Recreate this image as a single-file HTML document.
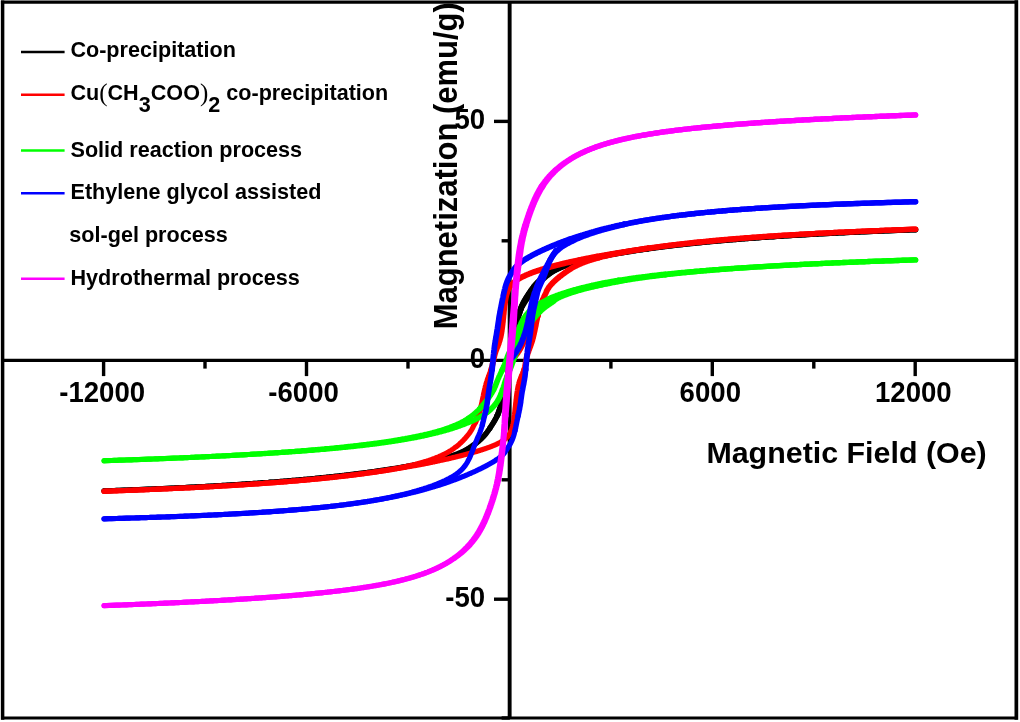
<!DOCTYPE html>
<html><head><meta charset="utf-8"><title>Magnetization</title>
<style>
html,body{margin:0;padding:0;background:#fff;}
body{width:1020px;height:722px;overflow:hidden;}
svg{display:block;}
text{font-family:"Liberation Sans",Arial,sans-serif;font-weight:bold;fill:#000;}
.lg{font-size:21.6px;}
.tk{font-size:27.6px;}
.ti{font-size:30.4px;}
.ty{font-size:31px;}
.par{font-family:"Liberation Serif",serif;font-weight:normal;font-size:25px;}
</style></head><body>
<svg width="1020" height="722" viewBox="0 0 1020 722">
<rect x="0" y="0" width="1020" height="722" fill="#fff"/>
<!-- frame -->
<g stroke="#000" fill="none" stroke-linecap="square">
<line x1="2.6" y1="2.15" x2="1016.35" y2="2.15" stroke-width="3.3"/>
<line x1="2.6" y1="717.95" x2="1016.35" y2="717.95" stroke-width="3"/>
<line x1="2.6" y1="2.15" x2="2.6" y2="717.95" stroke-width="3.5"/>
<line x1="1016.35" y1="2.15" x2="1016.35" y2="717.95" stroke-width="3.7"/>
</g>
<!-- axes -->
<g stroke="#000" fill="none" stroke-linecap="butt">
<line x1="2" y1="360.3" x2="1017" y2="360.3" stroke-width="3.2"/>
<line x1="509.65" y1="2" x2="509.65" y2="719" stroke-width="3.9"/>
<g stroke-width="3.4"><line x1="103.6" y1="360.3" x2="103.6" y2="376.1"/><line x1="306.5" y1="360.3" x2="306.5" y2="376.1"/><line x1="712.3" y1="360.3" x2="712.3" y2="376.1"/><line x1="915.2" y1="360.3" x2="915.2" y2="376.1"/><line x1="205.0" y1="360.3" x2="205.0" y2="368.6"/><line x1="408.0" y1="360.3" x2="408.0" y2="368.6"/><line x1="610.9" y1="360.3" x2="610.9" y2="368.6"/><line x1="813.8" y1="360.3" x2="813.8" y2="368.6"/><line x1="509.8" y1="121.4" x2="494.0" y2="121.4"/><line x1="509.8" y1="599.2" x2="494.0" y2="599.2"/><line x1="509.8" y1="240.8" x2="501.6" y2="240.8"/><line x1="509.8" y1="479.8" x2="501.6" y2="479.8"/><line x1="509.8" y1="718.0" x2="501.6" y2="718.0"/></g>
</g>
<!-- tick labels -->
<text class="tk" text-anchor="middle" transform="translate(102.2,402.0) scale(1,1.045)">-12000</text>
<text class="tk" text-anchor="middle" transform="translate(303.6,402.0) scale(1,1.045)">-6000</text>
<text class="tk" text-anchor="middle" transform="translate(710.3,402.0) scale(1,1.045)">6000</text>
<text class="tk" text-anchor="middle" transform="translate(913.3,402.0) scale(1,1.045)">12000</text>
<text class="tk" text-anchor="end" transform="translate(485.2,129.0) scale(1,1.045)">50</text>
<text class="tk" text-anchor="end" transform="translate(485.2,367.5) scale(1,1.045)">0</text>
<text class="tk" text-anchor="end" transform="translate(485.2,606.5) scale(1,1.045)">-50</text>

<text class="ti" x="706.4" y="462.8">Magnetic Field (Oe)</text>
<text class="ty" transform="translate(456.6,329.3) rotate(-90) scale(1,1.1)">Magnetization (emu/g)</text>
<!-- legend -->
<g stroke-width="2.5" fill="none">
<line x1="21" y1="51.9" x2="64.6" y2="51.9" stroke="#000"/>
<line x1="21" y1="94.7" x2="64.6" y2="94.7" stroke="#ff0000"/>
<line x1="21" y1="150.5" x2="64.6" y2="150.5" stroke="#00ff00"/>
<line x1="21" y1="193.2" x2="64.6" y2="193.2" stroke="#0000ff"/>
<line x1="21" y1="278.8" x2="64.6" y2="278.8" stroke="#ff00ff"/>
</g>
<text class="lg" x="70.4" y="57.3">Co-precipitation</text>
<text class="lg" x="70.4" y="100">Cu<tspan class="par" dy="0.8">(</tspan><tspan dy="-0.8">CH</tspan><tspan dy="12.4">3</tspan><tspan dy="-12.4">COO</tspan><tspan class="par" dy="0.8">)</tspan><tspan dy="11.6">2</tspan><tspan dy="-12.4"> co-precipitation</tspan></text>
<text class="lg" x="70.5" y="156.7">Solid reaction process</text>
<text class="lg" x="70.5" y="199.1">Ethylene glycol assisted</text>
<text class="lg" x="69.3" y="242.3">sol-gel process</text>
<text class="lg" x="70.5" y="285">Hydrothermal process</text>
<!-- curves -->
<g fill="none" stroke-linecap="round" stroke-linejoin="round">
<path d="M104.0 490.8L106.6 490.8 109.1 490.7 111.6 490.6 114.2 490.5 116.7 490.4 119.2 490.3 121.7 490.2 124.2 490.1 126.6 490.0 129.1 489.9 131.5 489.8 134.0 489.7 136.4 489.6 138.8 489.5 141.2 489.4 143.6 489.3 146.0 489.2 148.4 489.1 150.7 489.0 153.1 488.9 155.4 488.8 157.8 488.7 160.1 488.6 162.4 488.5 164.7 488.4 167.0 488.3 169.3 488.2 171.5 488.1 173.8 488.0 176.0 487.9 178.3 487.8 180.5 487.7 182.7 487.6 184.9 487.5 187.1 487.3 189.3 487.2 191.5 487.1 193.6 487.0 195.8 486.9 197.9 486.8 200.1 486.7 202.2 486.6 204.3 486.5 206.4 486.3 208.5 486.2 210.6 486.1 212.7 486.0 214.8 485.9 216.8 485.8 218.9 485.6 220.9 485.5 222.9 485.4 224.9 485.3 226.9 485.2 228.9 485.0 230.9 484.9 232.9 484.8 234.9 484.7 236.8 484.6 238.8 484.4 240.7 484.3 242.6 484.2 244.6 484.1 246.5 483.9 248.4 483.8 250.3 483.7 252.1 483.5 254.0 483.4 255.9 483.3 257.7 483.2 259.6 483.0 261.4 482.9 263.2 482.8 265.0 482.6 266.8 482.5 268.6 482.4 270.4 482.2 272.2 482.1 274.0 482.0 275.7 481.8 277.5 481.7 279.2 481.6 281.0 481.4 282.7 481.3 284.4 481.1 286.1 481.0 287.8 480.9 289.5 480.7 291.2 480.6 292.8 480.4 294.5 480.3 296.2 480.2 297.8 480.0 299.4 479.9 301.1 479.7 302.7 479.6 304.3 479.4 305.9 479.3 307.5 479.2 309.1 479.0 310.6 478.9 312.2 478.7 313.8 478.6 315.3 478.4 316.9 478.3 318.4 478.1 319.9 478.0 321.4 477.8 322.9 477.7 324.4 477.5 325.9 477.4 327.4 477.2 328.9 477.1 330.3 476.9 331.8 476.8 333.2 476.6 334.7 476.4 336.1 476.3 337.5 476.1 338.9 476.0 340.4 475.8 341.8 475.7 343.1 475.5 344.5 475.4 345.9 475.2 347.3 475.0 348.6 474.9 350.0 474.7 351.3 474.6 352.7 474.4 354.0 474.2 355.3 474.1 356.6 473.9 357.9 473.8 359.2 473.6 360.5 473.4 361.8 473.3 363.1 473.1 364.3 472.9 365.6 472.8 366.8 472.6 368.1 472.4 369.3 472.3 370.5 472.1 371.8 471.9 373.0 471.8 374.2 471.6 375.4 471.4 376.6 471.3 377.7 471.1 378.9 470.9 380.1 470.8 381.2 470.6 382.4 470.4 383.5 470.3 384.7 470.1 385.8 469.9 386.9 469.8 388.0 469.6 389.2 469.4 390.3 469.2 391.4 469.1 392.4 468.9 393.5 468.7 394.6 468.5 395.7 468.4 396.7 468.2 397.8 468.0 398.8 467.9 399.9 467.7 400.9 467.5 401.9 467.3 402.9 467.1 403.9 467.0 405.0 466.8 405.9 466.6 406.9 466.4 407.9 466.3 408.9 466.1 409.9 465.9 410.8 465.7 411.8 465.5 412.7 465.4 413.7 465.2 414.6 465.0 415.6 464.8 416.5 464.6 417.4 464.5 418.3 464.3 419.2 464.1 420.1 463.9 421.0 463.7 421.9 463.5 422.8 463.4 423.7 463.2 424.5 463.0 425.4 462.8 426.2 462.6 427.1 462.4 427.9 462.2 428.8 462.0 429.6 461.9 430.4 461.7 431.2 461.5 432.1 461.3 432.9 461.1 433.7 460.9 434.5 460.7 435.2 460.5 436.0 460.3 436.8 460.1 437.6 459.9 438.3 459.7 439.1 459.5 439.9 459.3 440.6 459.1 441.3 458.9 442.1 458.7 442.8 458.5 443.5 458.3 444.3 458.1 445.0 457.9 445.7 457.7 446.4 457.5 447.1 457.3 447.8 457.1 448.5 456.8 449.1 456.6 449.8 456.4 450.5 456.2 451.1 456.0 451.8 455.8 452.4 455.5 453.1 455.3 453.7 455.1 454.4 454.9 455.0 454.6 455.6 454.4 456.3 454.2 456.9 453.9 457.5 453.7 458.1 453.5 458.7 453.2 459.3 453.0 459.9 452.7 460.5 452.5 461.0 452.2 461.6 452.0 462.2 451.7 462.8 451.5 463.3 451.2 463.9 451.0 464.4 450.7 465.0 450.4 465.5 450.2 466.0 449.9 466.6 449.6 467.1 449.3 467.6 449.0 468.1 448.8 468.7 448.5 469.2 448.2 469.7 447.9 470.2 447.6 470.7 447.3 471.1 447.0 471.6 446.7 472.1 446.4 472.6 446.0 473.1 445.7 473.5 445.4 474.0 445.1 474.5 444.7 474.9 444.4 475.4 444.1 475.8 443.7 476.2 443.4 476.7 443.0 477.1 442.7 477.5 442.3 478.0 441.9 478.4 441.6 478.8 441.2 479.2 440.8 479.6 440.4 480.0 440.0 480.4 439.7 480.8 439.3 481.2 438.9 481.6 438.5 482.0 438.1 482.4 437.7 482.7 437.2 483.1 436.8 483.5 436.4 483.8 436.0 484.2 435.6 484.6 435.1 484.9 434.7 485.3 434.3 485.6 433.9 486.0 433.4 486.3 433.0 486.6 432.6 487.0 432.1 487.3 431.7 487.6 431.2 487.9 430.8 488.3 430.4 488.6 429.9 488.9 429.5 489.2 429.1 489.5 428.6 489.8 428.2" stroke="#000000" stroke-width="5.2"/>
<path d="M489.8 428.2L490.1 427.8 490.4 427.3 490.7 426.9 491.0 426.5 491.2 426.0 491.5 425.6 491.8 425.2 492.1 424.8 492.3 424.3 492.6 423.9 492.9 423.5 493.1 423.1 493.4 422.7 493.7 422.3 493.9 421.8 494.2 421.4 494.4 421.0 494.6 420.6 494.9 420.2 495.1 419.7 495.4 419.3 495.6 418.9 495.8 418.5 496.0 418.0 496.3 417.6 496.5 417.2 496.7 416.7 496.9 416.3 497.1 415.8 497.4 415.3" stroke="#000000" stroke-width="5.4"/>
<path d="M497.4 415.3L497.6 414.9 497.8 414.4 498.0 413.9 498.2 413.4 498.4 412.9 498.6 412.4 498.8 411.8 498.9 411.3 499.1 410.7 499.3 410.2 499.5 409.6 499.7 409.1 499.9 408.5 500.0 408.0 500.2 407.5 500.4 406.9 500.6 406.4 500.7 405.9 500.9 405.4 501.1 404.8 501.2 404.3 501.4 403.9 501.5 403.4 501.7 402.9 501.8 402.4 502.0 401.9 502.1 401.4 502.3 401.0 502.4 400.5 502.6 400.0 502.7 399.6 502.9 399.1 503.0 398.6 503.1 398.1 503.3 397.6 503.4 397.2 503.5 396.7 503.7 396.2 503.8 395.7 503.9 395.2 504.0 394.7 504.2 394.2 504.3 393.7 504.4 393.2 504.5 392.7 504.6 392.2 504.8 391.7 504.9 391.2 505.0 390.7 505.1 390.1 505.2 389.6 505.3 389.1 505.4 388.6 505.5 388.1 505.6 387.6 505.7 387.1 505.8 386.6 505.9 386.1 506.0 385.5 506.1 385.0 506.2 384.5 506.3 384.0 506.4 383.5 506.5 383.0 506.6 382.5 506.7 381.9 506.8 381.4 506.9 380.9 507.0 380.4 507.1 379.9 507.1 379.3 507.2 378.8 507.3 378.3 507.4 377.8 507.5 377.2 507.6 376.7 507.6 376.2 507.7 375.6 507.8 375.1 507.9 374.5 508.0 374.0 508.0 373.5 508.1 372.9 508.2 372.4 508.3 371.8 508.4 371.3 508.4 370.7 508.5 370.2" stroke="#000000" stroke-width="5.6"/>
<path d="M508.5 370.2L508.6 369.6 508.7 369.0 508.7 368.5 508.8 367.9 508.9 367.4 509.0 366.8 509.0 366.2 509.1 365.7 509.2 365.1 509.3 364.6 509.3 364.0 509.4 363.4 509.5 362.9 509.5 362.3 509.6 361.7 509.7 361.1 509.8 360.6 509.8 360.0 509.9 359.4 510.0 358.9 510.1 358.3 510.1 357.7 510.2 357.2 510.3 356.6 510.3 356.0 510.4 355.5 510.5 354.9 510.6 354.3 510.6 353.8 510.7 353.2 510.8 352.7 510.9 352.1 510.9 351.5 511.0 351.0 511.1 350.4 511.2 349.9 511.2 349.3 511.3 348.8 511.4 348.2 511.5 347.7 511.6 347.1 511.6 346.6 511.7 346.1 511.8 345.5 511.9 345.0 512.0 344.4 512.0 343.9 512.1 343.4 512.2 342.8 512.3 342.3 512.4 341.8 512.5 341.3 512.5 340.7 512.6 340.2 512.7 339.7 512.8 339.2 512.9 338.7 513.0 338.1 513.1 337.6 513.2 337.1 513.3 336.6 513.4 336.1 513.5 335.6 513.6 335.1 513.7 334.6 513.8 334.0 513.9 333.5 514.0 333.0 514.1 332.5 514.2 332.0 514.3 331.5 514.4 331.0 514.5 330.5 514.6 330.0 514.7 329.4 514.8 328.9 515.0 328.4 515.1 327.9 515.2 327.4 515.3 326.9 515.4 326.4 515.6 325.9 515.7 325.4 515.8 324.9 515.9 324.4 516.1 323.9 516.2 323.4 516.3 323.0 516.5 322.5 516.6 322.0 516.7 321.5 516.9 321.0 517.0 320.6 517.2 320.1 517.3 319.6 517.5 319.2 517.6 318.7 517.8 318.2 517.9 317.7 518.1 317.2 518.2 316.7 518.4 316.2 518.5 315.7 518.7 315.2 518.9 314.7 519.0 314.2 519.2 313.7 519.4 313.1 519.6 312.6 519.7 312.0 519.9 311.5 520.1 310.9 520.3 310.4 520.5 309.8 520.7 309.3 520.8 308.8 521.0 308.2 521.2 307.7 521.4 307.2 521.6 306.7 521.8 306.2 522.0 305.7 522.2 305.3 522.5 304.8 522.7 304.4 522.9 303.9 523.1 303.5 523.3 303.0 523.6 302.6 523.8 302.2 524.0 301.8 524.2 301.3 524.5 300.9 524.7 300.5 525.0 300.1 525.2 299.7 525.4 299.3 525.7 298.9 525.9 298.4 526.2 298.0 526.5 297.6 526.7 297.2 527.0 296.7 527.3 296.3 527.5 295.9 527.8 295.4 528.1 295.0 528.4 294.6 528.6 294.1 528.9 293.7 529.2 293.2 529.5 292.7 529.8 292.3 530.1 291.8 530.4 291.4 530.7 290.9 531.0 290.4 531.3 290.0 531.7 289.5 532.0 289.1 532.3 288.6 532.6 288.2 533.0 287.7 533.3 287.3 533.6 286.8 534.0 286.4 534.3 286.0 534.7 285.6 535.0 285.2 535.4 284.8 535.8 284.4 536.1 284.0 536.5 283.6 536.9 283.3 537.2 282.9 537.6 282.5 538.0 282.2 538.4 281.8 538.8 281.5 539.2 281.1 539.6 280.8 540.0 280.5 540.4 280.1 540.8 279.8 541.2 279.5 541.6 279.2 542.1 278.8 542.5 278.5 542.9 278.2 543.4 277.9 543.8 277.5 544.2 277.2 544.7 276.9 545.1 276.6 545.6 276.2 546.1 275.9 546.5 275.6 547.0 275.2 547.5 274.9 548.0 274.5 548.5 274.2 548.9 273.8 549.4 273.5 549.9 273.1 550.4 272.8 550.9 272.4 551.5 272.0 552.0 271.7 552.5 271.3 553.0 271.0 553.6 270.7 554.1 270.3 554.6 270.0 555.2 269.7 555.7 269.4 556.3 269.1 556.8 268.8 557.4 268.5 558.0 268.3 558.6 268.0 559.1 267.7 559.7 267.5 560.3 267.2 560.9 267.0 561.5 266.7 562.1 266.5 562.7 266.2 563.3 266.0 564.0 265.8 564.6 265.6 565.2 265.3 565.9 265.1 566.5 264.9 567.2 264.7 567.8 264.5 568.5 264.3 569.1 264.1 569.8 263.9 570.5 263.7 571.1 263.4 571.8 263.2 572.5 263.0 573.2 262.9 573.9 262.7 574.6 262.5 575.3 262.3 576.1 262.1 576.8 261.9 577.5 261.7 578.3 261.5 579.0 261.3 579.7 261.1 580.5 260.9 581.3 260.7 582.0 260.6 582.8 260.4 583.6 260.2 584.4 260.0 585.1 259.8 585.9 259.6 586.7 259.5 587.5 259.3 588.4 259.1 589.2 258.9 590.0 258.7 590.8 258.6 591.7 258.4 592.5 258.2 593.4 258.0 594.2 257.8 595.1 257.7 595.9 257.5 596.8 257.3 597.7 257.1" stroke="#000000" stroke-width="5.8"/>
<path d="M597.7 257.1L598.6 256.9 599.5 256.8 600.4 256.6 601.3 256.4 602.2 256.2 603.1 256.1 604.0 255.9 605.0 255.7 605.9 255.5 606.9 255.4 607.8 255.2 608.8 255.0 609.7 254.8 610.7 254.6 611.7 254.5 612.7 254.3 613.7 254.1 614.6 254.0 615.7 253.8 616.7 253.6 617.7 253.4 618.7 253.3 619.7 253.1 620.8 252.9 621.8 252.7 622.9 252.6 623.9 252.4 625.0 252.2 626.1 252.0 627.2 251.9 628.2 251.7 629.3 251.5 630.4 251.4 631.6 251.2 632.7 251.0 633.8 250.8 634.9 250.7 636.1 250.5 637.2 250.3 638.4 250.2 639.5 250.0 640.7 249.8 641.9 249.7 643.0 249.5 644.2 249.3 645.4 249.1 646.6 249.0 647.8 248.8" stroke="#000000" stroke-width="5.6"/>
<path d="M647.8 248.8L649.1 248.6 650.3 248.5 651.5 248.3 652.8 248.1 654.0 248.0 655.3 247.8 656.5 247.6 657.8 247.5 659.1 247.3 660.4 247.2 661.7 247.0 663.0 246.8 664.3 246.7 665.6 246.5 666.9 246.3 668.3 246.2 669.6 246.0 671.0 245.8 672.3 245.7 673.7 245.5 675.1 245.4 676.5 245.2 677.8 245.0 679.2 244.9 680.7 244.7 682.1 244.6 683.5 244.4 684.9 244.3 686.4 244.1 687.8 243.9 689.3 243.8 690.7 243.6 692.2 243.5 693.7 243.3 695.2 243.2 696.7 243.0 698.2 242.9 699.7 242.7 701.2 242.5 702.7 242.4 704.3 242.2 705.8 242.1 707.4 241.9 709.0 241.8 710.5 241.6 712.1 241.5 713.7 241.3 715.3 241.2 716.9 241.1 718.5 240.9 720.2 240.8 721.8 240.6 723.4 240.5 725.1 240.3 726.8 240.2 728.4 240.0 730.1 239.9 731.8 239.8 733.5 239.6 735.2 239.5 736.9 239.3 738.6 239.2 740.4 239.1 742.1 238.9 743.9 238.8 745.6 238.6 747.4 238.5 749.2 238.4 751.0 238.2 752.8 238.1 754.6 238.0 756.4 237.8 758.2 237.7 760.0 237.6 761.9 237.4 763.7 237.3 765.6 237.2 767.5 237.0 769.3 236.9 771.2 236.8 773.1 236.7 775.0 236.5 777.0 236.4 778.9 236.3 780.8 236.1 782.8 236.0 784.7 235.9 786.7 235.8 788.7 235.6 790.7 235.5 792.7 235.4 794.7 235.3 796.7 235.2 798.7 235.0 800.7 234.9 802.8 234.8 804.8 234.7 806.9 234.6 809.0 234.4 811.1 234.3 813.2 234.2 815.3 234.1 817.4 234.0 819.5 233.9 821.7 233.8 823.8 233.6 826.0 233.5 828.1 233.4 830.3 233.3 832.5 233.2 834.7 233.1 836.9 233.0 839.1 232.9 841.3 232.8 843.6 232.7 845.8 232.5 848.1 232.4 850.3 232.3 852.6 232.2 854.9 232.1 857.2 232.0 859.5 231.9 861.8 231.8 864.2 231.7 866.5 231.6 868.9 231.5 871.2 231.4 873.6 231.3 876.0 231.2 878.4 231.1 880.8 231.0 883.2 230.9 885.6 230.8 888.1 230.7 890.5 230.6 893.0 230.5 895.4 230.4 897.9 230.3 900.4 230.3 902.9 230.2 905.4 230.1 908.0 230.0 910.5 229.9 913.0 229.8 915.6 229.7" stroke="#000000" stroke-width="5.4"/>
<path d="M104.0 490.9L106.6 490.8 109.1 490.7 111.6 490.6 114.2 490.5 116.7 490.4 119.2 490.3 121.7 490.3 124.2 490.2 126.6 490.1 129.1 490.0 131.5 489.9 134.0 489.8 136.4 489.7 138.8 489.6 141.2 489.5 143.6 489.4 146.0 489.3 148.4 489.2 150.7 489.1 153.1 489.0 155.4 488.9 157.8 488.8 160.1 488.7 162.4 488.6 164.7 488.5 167.0 488.4 169.3 488.3 171.5 488.2 173.8 488.1 176.0 487.9 178.3 487.8 180.5 487.7 182.7 487.6 184.9 487.5 187.1 487.4 189.3 487.3 191.5 487.2 193.6 487.1 195.8 487.0 197.9 486.8 200.1 486.7 202.2 486.6 204.3 486.5 206.4 486.4 208.5 486.3 210.6 486.2 212.7 486.0 214.8 485.9 216.8 485.8 218.9 485.7 220.9 485.6 222.9 485.4 224.9 485.3 226.9 485.2 228.9 485.1 230.9 485.0 232.9 484.8 234.9 484.7 236.8 484.6 238.8 484.5 240.7 484.3 242.6 484.2 244.6 484.1 246.5 483.9 248.4 483.8 250.3 483.7 252.1 483.6 254.0 483.4 255.9 483.3 257.7 483.2 259.6 483.0 261.4 482.9 263.2 482.8 265.0 482.6 266.8 482.5 268.6 482.4 270.4 482.2 272.2 482.1 274.0 482.0 275.7 481.8 277.5 481.7 279.2 481.5 281.0 481.4 282.7 481.3 284.4 481.1 286.1 481.0 287.8 480.8 289.5 480.7 291.2 480.6 292.8 480.4 294.5 480.3 296.2 480.1 297.8 480.0 299.4 479.8 301.1 479.7 302.7 479.5 304.3 479.4 305.9 479.3 307.5 479.1 309.1 479.0 310.6 478.8 312.2 478.7 313.8 478.5 315.3 478.4 316.9 478.2 318.4 478.1 319.9 477.9 321.4 477.7 322.9 477.6 324.4 477.4 325.9 477.3 327.4 477.1 328.9 477.0 330.3 476.8 331.8 476.7 333.2 476.5 334.7 476.3 336.1 476.2 337.5 476.0 338.9 475.9 340.4 475.7 341.8 475.6 343.1 475.4 344.5 475.2 345.9 475.1 347.3 474.9 348.6 474.8 350.0 474.6 351.3 474.4 352.7 474.3 354.0 474.1 355.3 473.9 356.6 473.8 357.9 473.6 359.2 473.4 360.5 473.3 361.8 473.1 363.1 473.0 364.3 472.8 365.6 472.6 366.8 472.5 368.1 472.3 369.3 472.1 370.5 472.0 371.8 471.8 373.0 471.6 374.2 471.5 375.4 471.3 376.6 471.1 377.7 470.9 378.9 470.8 380.1 470.6 381.2 470.4 382.4 470.3 383.5 470.1 384.7 469.9 385.8 469.8 386.9 469.6 388.0 469.4 389.2 469.2 390.3 469.1 391.4 468.9 392.4 468.7 393.5 468.6 394.6 468.4 395.7 468.2 396.7 468.0 397.8 467.9 398.8 467.7 399.9 467.5 400.9 467.3 401.9 467.2 402.9 467.0 403.9 466.8 405.0 466.6 405.9 466.5 406.9 466.3 407.9 466.1 408.9 466.0 409.9 465.8 410.8 465.6 411.8 465.4 412.7 465.2 413.7 465.1 414.6 464.9 415.6 464.7 416.5 464.5 417.4 464.4 418.3 464.2 419.2 464.0 420.1 463.8 421.0 463.7 421.9 463.5 422.8 463.3 423.7 463.1 424.5 462.9 425.4 462.8 426.2 462.6 427.1 462.4 427.9 462.2 428.8 462.0 429.6 461.9 430.4 461.7 431.2 461.5 432.1 461.3 432.9 461.1 433.7 461.0 434.5 460.8 435.2 460.6 436.0 460.4 436.8 460.2 437.6 460.0 438.3 459.9 439.1 459.7 439.9 459.5 440.6 459.3 441.3 459.1 442.1 458.9 442.8 458.7 443.5 458.5 444.3 458.3 445.0 458.1 445.7 457.9 446.4 457.7 447.1 457.6 447.8 457.4 448.5 457.2 449.1 456.9 449.8 456.7 450.5 456.5 451.1 456.3 451.8 456.1 452.4 455.9 453.1 455.7 453.7 455.5 454.4 455.3 455.0 455.0 455.6 454.8 456.3 454.6 456.9 454.4 457.5 454.1 458.1 453.9 458.7 453.6 459.3 453.4 459.9 453.1 460.5 452.9 461.0 452.6 461.6 452.3 462.2 452.1 462.8 451.8 463.3 451.5 463.9 451.2 464.4 450.9 465.0 450.6 465.5 450.3 466.0 449.9 466.6 449.6 467.1 449.3 467.6 448.9 468.1 448.6 468.7 448.2 469.2 447.8 469.7 447.5 470.2 447.1 470.7 446.8 471.1 446.4 471.6 446.1 472.1 445.7 472.6 445.4 473.1 445.0 473.5 444.7 474.0 444.4 474.5 444.0 474.9 443.7 475.4 443.4 475.8 443.1 476.2 442.7 476.7 442.4 477.1 442.1 477.5 441.8 478.0 441.4 478.4 441.1 478.8 440.8 479.2 440.5 479.6 440.1 480.0 439.8 480.4 439.5 480.8 439.1 481.2 438.8 481.6 438.4 482.0 438.1 482.4 437.7 482.7 437.3 483.1 437.0 483.5 436.6 483.8 436.2 484.2 435.8 484.6 435.4 484.9 435.0 485.3 434.6 485.6 434.2 486.0 433.8 486.3 433.3 486.6 432.9 487.0 432.4 487.3 432.0 487.6 431.5 487.9 431.1 488.3 430.6 488.6 430.2 488.9 429.7 489.2 429.2 489.5 428.8 489.8 428.3" stroke="#000000" stroke-width="5.2"/>
<path d="M489.8 428.3L490.1 427.9 490.4 427.4 490.7 426.9 491.0 426.5 491.2 426.0 491.5 425.6 491.8 425.2 492.1 424.7 492.3 424.3 492.6 423.9 492.9 423.4 493.1 423.0 493.4 422.6 493.7 422.2 493.9 421.7 494.2 421.3 494.4 420.9 494.6 420.5 494.9 420.1 495.1 419.7 495.4 419.3 495.6 418.8 495.8 418.4 496.0 418.0 496.3 417.6 496.5 417.1 496.7 416.7 496.9 416.2 497.1 415.8 497.4 415.3" stroke="#000000" stroke-width="5.4"/>
<path d="M497.4 415.3L497.6 414.9 497.8 414.4 498.0 413.9 498.2 413.4 498.4 412.9 498.6 412.4 498.8 411.8 498.9 411.3 499.1 410.8 499.3 410.2 499.5 409.7 499.7 409.1 499.9 408.6 500.0 408.0 500.2 407.5 500.4 406.9 500.6 406.4 500.7 405.9 500.9 405.4 501.1 404.9 501.2 404.4 501.4 403.9 501.5 403.4 501.7 402.9 501.8 402.4 502.0 401.9 502.1 401.4 502.3 401.0 502.4 400.5 502.6 400.0 502.7 399.6 502.9 399.1 503.0 398.6 503.1 398.1 503.3 397.6 503.4 397.2 503.5 396.7 503.7 396.2 503.8 395.7 503.9 395.2 504.0 394.7 504.2 394.2 504.3 393.7 504.4 393.2 504.5 392.7 504.6 392.2 504.8 391.7 504.9 391.2 505.0 390.6 505.1 390.1 505.2 389.6 505.3 389.1 505.4 388.6 505.5 388.1 505.6 387.6 505.7 387.1 505.8 386.6 505.9 386.0 506.0 385.5 506.1 385.0 506.2 384.5 506.3 384.0 506.4 383.5 506.5 383.0 506.6 382.5 506.7 381.9 506.8 381.4 506.9 380.9 507.0 380.4 507.1 379.9 507.1 379.3 507.2 378.8 507.3 378.3 507.4 377.8 507.5 377.2 507.6 376.7 507.6 376.2 507.7 375.6 507.8 375.1 507.9 374.5 508.0 374.0 508.0 373.5 508.1 372.9 508.2 372.4 508.3 371.8 508.4 371.3 508.4 370.7 508.5 370.2" stroke="#000000" stroke-width="5.6"/>
<path d="M508.5 370.2L508.6 369.6 508.7 369.1 508.7 368.5 508.8 367.9 508.9 367.4 509.0 366.8 509.0 366.3 509.1 365.7 509.2 365.1 509.3 364.6 509.3 364.0 509.4 363.4 509.5 362.9 509.5 362.3 509.6 361.7 509.7 361.2 509.8 360.6 509.8 360.0 509.9 359.5 510.0 358.9 510.1 358.3 510.1 357.7 510.2 357.2 510.3 356.6 510.3 356.0 510.4 355.5 510.5 354.9 510.6 354.4 510.6 353.8 510.7 353.2 510.8 352.7 510.9 352.1 510.9 351.6 511.0 351.0 511.1 350.4 511.2 349.9 511.2 349.3 511.3 348.8 511.4 348.2 511.5 347.7 511.6 347.1 511.6 346.6 511.7 346.1 511.8 345.5 511.9 345.0 512.0 344.4 512.0 343.9 512.1 343.4 512.2 342.8 512.3 342.3 512.4 341.8 512.5 341.3 512.5 340.7 512.6 340.2 512.7 339.7 512.8 339.2 512.9 338.7 513.0 338.1 513.1 337.6 513.2 337.1 513.3 336.6 513.4 336.1 513.5 335.6 513.6 335.1 513.7 334.5 513.8 334.0 513.9 333.5 514.0 333.0 514.1 332.5 514.2 332.0 514.3 331.5 514.4 331.0 514.5 330.5 514.6 329.9 514.7 329.4 514.8 328.9 515.0 328.4 515.1 327.9 515.2 327.4 515.3 326.9 515.4 326.4 515.6 325.9 515.7 325.4 515.8 324.9 515.9 324.4 516.1 323.9 516.2 323.4 516.3 323.0 516.5 322.5 516.6 322.0 516.7 321.5 516.9 321.0 517.0 320.6 517.2 320.1 517.3 319.6 517.5 319.2 517.6 318.7 517.8 318.2 517.9 317.7 518.1 317.2 518.2 316.7 518.4 316.3 518.5 315.8 518.7 315.2 518.9 314.7 519.0 314.2 519.2 313.7 519.4 313.1 519.6 312.6 519.7 312.1 519.9 311.5 520.1 311.0 520.3 310.4 520.5 309.9 520.7 309.3 520.8 308.8 521.0 308.2 521.2 307.7 521.4 307.2 521.6 306.7 521.8 306.2 522.0 305.7 522.2 305.3 522.5 304.8 522.7 304.3 522.9 303.9 523.1 303.4 523.3 303.0 523.6 302.6 523.8 302.1 524.0 301.7 524.2 301.3 524.5 300.9 524.7 300.4 525.0 300.0 525.2 299.6 525.4 299.2 525.7 298.8 525.9 298.3 526.2 297.9 526.5 297.5 526.7 297.1 527.0 296.7 527.3 296.3 527.5 295.8 527.8 295.4 528.1 295.0 528.4 294.6 528.6 294.1 528.9 293.7 529.2 293.3 529.5 292.8 529.8 292.4 530.1 292.0 530.4 291.5 530.7 291.1 531.0 290.7 531.3 290.2 531.7 289.8 532.0 289.4 532.3 288.9 532.6 288.5 533.0 288.0 533.3 287.6 533.6 287.2 534.0 286.7 534.3 286.3 534.7 285.9 535.0 285.5 535.4 285.0 535.8 284.6 536.1 284.2 536.5 283.8 536.9 283.4 537.2 282.9 537.6 282.5 538.0 282.1 538.4 281.7 538.8 281.3 539.2 280.9 539.6 280.6 540.0 280.2 540.4 279.8 540.8 279.4 541.2 279.0 541.6 278.7 542.1 278.3 542.5 277.9 542.9 277.6 543.4 277.2 543.8 276.9 544.2 276.5 544.7 276.2 545.1 275.9 545.6 275.5 546.1 275.2 546.5 274.9 547.0 274.6 547.5 274.2 548.0 273.9 548.5 273.6 548.9 273.3 549.4 273.0 549.9 272.7 550.4 272.4 550.9 272.1 551.5 271.8 552.0 271.6 552.5 271.3 553.0 271.0 553.6 270.7 554.1 270.4 554.6 270.2 555.2 269.9 555.7 269.6 556.3 269.4 556.8 269.1 557.4 268.9 558.0 268.6 558.6 268.4 559.1 268.1 559.7 267.9 560.3 267.6 560.9 267.4 561.5 267.1 562.1 266.9 562.7 266.7 563.3 266.4 564.0 266.2 564.6 266.0 565.2 265.7 565.9 265.5 566.5 265.3 567.2 265.1 567.8 264.8 568.5 264.6 569.1 264.4 569.8 264.2 570.5 264.0 571.1 263.8 571.8 263.5 572.5 263.3 573.2 263.1 573.9 262.9 574.6 262.7 575.3 262.5 576.1 262.3 576.8 262.1 577.5 261.9 578.3 261.7 579.0 261.5 579.7 261.3 580.5 261.1 581.3 260.9 582.0 260.7 582.8 260.5 583.6 260.3 584.4 260.1 585.1 259.9 585.9 259.7 586.7 259.5 587.5 259.3 588.4 259.1 589.2 258.9 590.0 258.7 590.8 258.6 591.7 258.4 592.5 258.2 593.4 258.0 594.2 257.8 595.1 257.6 595.9 257.4 596.8 257.2 597.7 257.1" stroke="#000000" stroke-width="5.8"/>
<path d="M597.7 257.1L598.6 256.9 599.5 256.7 600.4 256.5 601.3 256.3 602.2 256.1 603.1 256.0 604.0 255.8 605.0 255.6 605.9 255.4 606.9 255.2 607.8 255.1 608.8 254.9 609.7 254.7 610.7 254.5 611.7 254.3 612.7 254.2 613.7 254.0 614.6 253.8 615.7 253.6 616.7 253.5 617.7 253.3 618.7 253.1 619.7 252.9 620.8 252.7 621.8 252.6 622.9 252.4 623.9 252.2 625.0 252.1 626.1 251.9 627.2 251.7 628.2 251.5 629.3 251.4 630.4 251.2 631.6 251.0 632.7 250.8 633.8 250.7 634.9 250.5 636.1 250.3 637.2 250.2 638.4 250.0 639.5 249.8 640.7 249.7 641.9 249.5 643.0 249.3 644.2 249.2 645.4 249.0 646.6 248.8 647.8 248.7" stroke="#000000" stroke-width="5.6"/>
<path d="M647.8 248.7L649.1 248.5 650.3 248.3 651.5 248.2 652.8 248.0 654.0 247.8 655.3 247.7 656.5 247.5 657.8 247.3 659.1 247.2 660.4 247.0 661.7 246.8 663.0 246.7 664.3 246.5 665.6 246.4 666.9 246.2 668.3 246.0 669.6 245.9 671.0 245.7 672.3 245.6 673.7 245.4 675.1 245.2 676.5 245.1 677.8 244.9 679.2 244.8 680.7 244.6 682.1 244.5 683.5 244.3 684.9 244.2 686.4 244.0 687.8 243.8 689.3 243.7 690.7 243.5 692.2 243.4 693.7 243.2 695.2 243.1 696.7 242.9 698.2 242.8 699.7 242.6 701.2 242.5 702.7 242.3 704.3 242.2 705.8 242.0 707.4 241.9 709.0 241.7 710.5 241.6 712.1 241.4 713.7 241.3 715.3 241.2 716.9 241.0 718.5 240.9 720.2 240.7 721.8 240.6 723.4 240.4 725.1 240.3 726.8 240.2 728.4 240.0 730.1 239.9 731.8 239.7 733.5 239.6 735.2 239.5 736.9 239.3 738.6 239.2 740.4 239.0 742.1 238.9 743.9 238.8 745.6 238.6 747.4 238.5 749.2 238.4 751.0 238.2 752.8 238.1 754.6 238.0 756.4 237.8 758.2 237.7 760.0 237.6 761.9 237.4 763.7 237.3 765.6 237.2 767.5 237.1 769.3 236.9 771.2 236.8 773.1 236.7 775.0 236.5 777.0 236.4 778.9 236.3 780.8 236.2 782.8 236.0 784.7 235.9 786.7 235.8 788.7 235.7 790.7 235.6 792.7 235.4 794.7 235.3 796.7 235.2 798.7 235.1 800.7 235.0 802.8 234.8 804.8 234.7 806.9 234.6 809.0 234.5 811.1 234.4 813.2 234.3 815.3 234.1 817.4 234.0 819.5 233.9 821.7 233.8 823.8 233.7 826.0 233.6 828.1 233.5 830.3 233.4 832.5 233.3 834.7 233.1 836.9 233.0 839.1 232.9 841.3 232.8 843.6 232.7 845.8 232.6 848.1 232.5 850.3 232.4 852.6 232.3 854.9 232.2 857.2 232.1 859.5 232.0 861.8 231.9 864.2 231.8 866.5 231.7 868.9 231.6 871.2 231.5 873.6 231.4 876.0 231.3 878.4 231.2 880.8 231.1 883.2 231.0 885.6 230.9 888.1 230.8 890.5 230.7 893.0 230.6 895.4 230.5 897.9 230.4 900.4 230.3 902.9 230.2 905.4 230.1 908.0 230.0 910.5 229.9 913.0 229.8 915.6 229.8" stroke="#000000" stroke-width="5.4"/>
<path d="M509.8 360.3L510.1 358.3 510.4 356.3 510.7 354.3 511.0 352.3 511.3 350.3 511.6 348.3 511.9 346.3 512.1 344.3 512.4 342.3 512.7 340.3 513.0 338.3 513.3 336.3 513.6 334.4 514.0 332.4 514.3 330.4 514.7 328.7 515.0 327.0 515.4 325.4 515.7 323.7 516.2 322.1 516.6 320.4 517.0 318.8 517.5 317.3 518.0 315.9 518.4 314.6 518.9 313.3 519.4 312.0 520.0 310.7 520.6 309.4 521.2 308.2 521.8 306.9 522.5 305.7 523.2 304.5 524.0 303.3 524.7 302.1 525.5 300.9 526.3 299.8 527.2 298.6 527.8 297.8 528.4 296.9 529.0 296.1 529.6 295.3 530.2 294.5 530.8 293.6 531.5 292.8 532.0 292.0 532.6 291.3 533.1 290.6 533.7 289.9 534.2 289.1 534.7 288.4 535.3 287.7 535.8 287.0 536.3 286.4 536.8 285.8 537.2 285.3 537.7 284.8 538.1 284.2 538.6 283.7 539.1 283.1 539.5 282.6 540.1 282.0 540.8 281.3 541.4 280.7 542.0 280.1 542.6 279.4 543.2 278.8 543.9 278.2 544.7 277.5 545.6 276.7 546.6 275.8 547.6 275.0 548.6 274.3 549.6 273.5 550.7 272.8 551.7 272.0 552.8 271.4 553.8 270.7 554.9 270.1 556.0 269.5 557.1 268.9 558.2 268.3 559.3 267.8 560.5 267.2 561.8 266.6 563.1 266.0 564.5 265.5 565.9 264.9 567.2 264.4 568.6 263.9 570.0 263.4 571.3 262.9 572.5 262.5 573.8 262.1 575.0 261.7 576.3 261.4 577.5 261.0 578.8 260.6 580.0 260.3" stroke="#000000" stroke-width="5.8"/>
<path d="M104.0 491.2L106.6 491.2 109.1 491.1 111.6 491.0 114.2 490.9 116.7 490.8 119.2 490.7 121.7 490.6 124.2 490.5 126.6 490.4 129.1 490.4 131.5 490.3 134.0 490.2 136.4 490.1 138.8 490.0 141.2 489.9 143.6 489.8 146.0 489.7 148.4 489.6 150.7 489.5 153.1 489.4 155.4 489.3 157.8 489.2 160.1 489.1 162.4 489.0 164.7 488.9 167.0 488.8 169.3 488.7 171.5 488.6 173.8 488.5 176.0 488.4 178.3 488.3 180.5 488.2 182.7 488.1 184.9 488.0 187.1 487.9 189.3 487.8 191.5 487.7 193.6 487.6 195.8 487.5 197.9 487.4 200.1 487.3 202.2 487.2 204.3 487.0 206.4 486.9 208.5 486.8 210.6 486.7 212.7 486.6 214.8 486.5 216.8 486.4 218.9 486.3 220.9 486.1 222.9 486.0 224.9 485.9 226.9 485.8 228.9 485.7 230.9 485.6 232.9 485.5 234.9 485.3 236.8 485.2 238.8 485.1 240.7 485.0 242.6 484.9 244.6 484.7 246.5 484.6 248.4 484.5 250.3 484.4 252.1 484.2 254.0 484.1 255.9 484.0 257.7 483.9 259.6 483.7 261.4 483.6 263.2 483.5 265.0 483.4 266.8 483.2 268.6 483.1 270.4 483.0 272.2 482.8 274.0 482.7 275.7 482.6 277.5 482.5 279.2 482.3 281.0 482.2 282.7 482.1 284.4 481.9 286.1 481.8 287.8 481.6 289.5 481.5 291.2 481.4 292.8 481.2 294.5 481.1 296.2 481.0 297.8 480.8 299.4 480.7 301.1 480.5 302.7 480.4 304.3 480.3 305.9 480.1 307.5 480.0 309.1 479.8 310.6 479.7 312.2 479.5 313.8 479.4 315.3 479.2 316.9 479.1 318.4 478.9 319.9 478.8 321.4 478.6 322.9 478.5 324.4 478.3 325.9 478.2 327.4 478.0 328.9 477.9 330.3 477.7 331.8 477.6 333.2 477.4 334.7 477.3 336.1 477.1 337.5 477.0 338.9 476.8 340.4 476.6 341.8 476.5 343.1 476.3 344.5 476.2 345.9 476.0 347.3 475.8 348.6 475.7 350.0 475.5 351.3 475.3 352.7 475.2 354.0 475.0 355.3 474.8 356.6 474.7 357.9 474.5 359.2 474.3 360.5 474.2 361.8 474.0 363.1 473.8 364.3 473.7 365.6 473.5 366.8 473.3 368.1 473.1 369.3 473.0 370.5 472.8 371.8 472.6 373.0 472.4 374.2 472.2 375.4 472.1 376.6 471.9 377.7 471.7 378.9 471.5 380.1 471.3 381.2 471.1 382.4 471.0 383.5 470.8 384.7 470.6 385.8 470.4 386.9 470.2 388.0 470.0 389.2 469.8 390.3 469.6 391.4 469.4 392.4 469.2 393.5 469.0 394.6 468.8 395.7 468.6 396.7 468.4 397.8 468.2 398.8 468.0 399.9 467.8 400.9 467.6 401.9 467.4 402.9 467.2 403.9 467.0 405.0 466.8 405.9 466.5 406.9 466.3 407.9 466.1 408.9 465.9 409.9 465.7 410.8 465.4 411.8 465.2 412.7 465.0 413.7 464.7 414.6 464.5 415.6 464.3 416.5 464.0 417.4 463.8 418.3 463.6 419.2 463.3 420.1 463.1 421.0 462.8 421.9 462.6 422.8 462.3 423.7 462.1 424.5 461.8 425.4 461.5 426.2 461.3 427.1 461.0 427.9 460.7 428.8 460.5 429.6 460.2 430.4 459.9 431.2 459.6 432.1 459.3 432.9 459.0 433.7 458.7 434.5 458.4 435.2 458.1 436.0 457.8 436.8 457.5 437.6 457.2 438.3 456.9 439.1 456.6 439.9 456.2 440.6 455.9 441.3 455.6 442.1 455.2 442.8 454.9 443.5 454.5 444.3 454.2 445.0 453.8 445.7 453.4 446.4 453.1 447.1 452.7 447.8 452.3 448.5 451.9 449.1 451.5 449.8 451.1 450.5 450.7 451.1 450.3 451.8 449.8 452.4 449.4 453.1 449.0 453.7 448.5 454.4 448.1 455.0 447.6 455.6 447.1 456.3 446.7 456.9 446.2 457.5 445.7 458.1 445.2 458.7 444.7 459.3 444.2 459.9 443.6 460.5 443.1 461.0 442.6 461.6 442.0 462.2 441.5 462.8 440.9 463.3 440.3 463.9 439.7 464.4 439.2 465.0 438.6 465.5 437.9 466.0 437.3 466.6 436.7 467.1 436.1 467.6 435.4 468.1 434.8 468.7 434.1 469.2 433.4 469.7 432.8 470.2 432.0 470.7 431.3 471.1 430.6 471.6 429.8 472.1 428.9 472.6 428.0 473.1 427.1 473.5 426.1 474.0 425.2 474.5 424.3 474.9 423.4 475.4 422.5" stroke="#ff0000" stroke-width="5.2"/>
<path d="M475.4 422.5L475.8 421.6 476.2 420.7 476.7 419.8 477.1 418.8 477.5 417.8 478.0 416.8 478.4 415.7 478.8 414.6 479.2 413.4 479.6 412.1 480.0 410.8 480.4 409.4 480.8 407.9" stroke="#ff0000" stroke-width="5.4"/>
<path d="M480.8 407.9L481.2 406.3 481.6 404.7 482.0 403.0 482.4 401.2 482.7 399.4 483.1 397.6 483.5 395.8 483.8 394.0 484.2 392.3 484.6 390.7 484.9 389.2 485.3 387.7 485.6 386.3 486.0 385.0 486.3 383.8 486.6 382.7 487.0 381.6 487.3 380.6 487.6 379.6 487.9 378.7 488.3 377.8 488.6 376.9 488.9 376.1 489.2 375.2 489.5 374.4 489.8 373.6 490.1 372.8 490.4 372.0 490.7 371.1 491.0 370.3" stroke="#ff0000" stroke-width="5.6"/>
<path d="M491.0 370.3L491.2 369.4 491.5 368.5 491.8 367.5 492.1 366.5 492.3 365.4 492.6 364.2 492.9 363.0 493.1 361.7 493.4 360.4 493.7 359.2 493.9 358.0 494.2 356.9 494.4 355.9 494.6 355.0 494.9 354.1 495.1 353.3 495.4 352.5 495.6 351.8 495.8 351.1 496.0 350.5 496.3 349.9 496.5 349.3 496.7 348.7 496.9 348.2 497.1 347.6 497.4 347.1 497.6 346.6 497.8 346.0 498.0 345.5 498.2 345.0 498.4 344.4 498.6 343.9 498.8 343.4 498.9 342.8 499.1 342.2 499.3 341.7 499.5 341.1 499.7 340.5 499.9 339.8 500.0 339.2 500.2 338.5 500.4 337.8 500.6 337.1 500.7 336.3 500.9 335.6 501.1 334.7 501.2 333.9 501.4 333.0 501.5 332.1 501.7 331.1 501.8 330.1 502.0 329.0 502.1 327.9 502.3 326.8 502.4 325.6 502.6 324.4 502.7 323.1 502.9 321.8 503.0 320.5 503.1 319.2 503.3 317.9 503.4 316.6 503.5 315.3 503.7 314.0 503.8 312.8 503.9 311.6 504.0 310.4 504.2 309.3 504.3 308.2 504.4 307.2 504.5 306.2 504.6 305.3 504.8 304.4 504.9 303.6 505.0 302.8 505.1 302.1 505.2 301.4 505.3 300.7 505.4 300.1 505.5 299.5 505.6 298.9 505.7 298.4 505.8 297.8 505.9 297.4 506.0 296.9 506.1 296.5 506.2 296.0 506.3 295.6 506.4 295.3 506.5 294.9 506.6 294.5 506.7 294.2 506.8 293.9 506.9 293.6 507.0 293.3 507.1 293.0 507.1 292.7 507.2 292.5 507.3 292.2 507.4 292.0 507.5 291.7 507.6 291.5 507.6 291.3 507.7 291.1 507.8 290.9 507.9 290.7 508.0 290.5 508.0 290.3 508.1 290.1 508.2 289.9 508.3 289.8 508.4 289.6 508.4 289.4 508.5 289.3 508.6 289.1 508.7 289.0 508.7 288.8 508.8 288.7 508.9 288.5 509.0 288.4 509.0 288.2 509.1 288.1 509.2 288.0 509.3 287.9 509.3 287.7 509.4 287.6 509.5 287.5 509.5 287.4 509.6 287.2 509.7 287.1 509.8 287.0 509.8 286.9 509.9 286.8 510.0 286.7 510.1 286.6 510.1 286.5 510.2 286.4 510.3 286.3 510.3 286.2 510.4 286.1 510.5 285.9 510.6 285.8 510.6 285.8 510.7 285.7 510.8 285.6 510.9 285.5 510.9 285.4 511.0 285.3 511.1 285.2 511.2 285.1 511.2 285.0 511.3 284.9 511.4 284.8 511.5 284.7 511.6 284.6 511.6 284.5 511.7 284.4 511.8 284.3 511.9 284.3 512.0 284.2 512.0 284.1 512.1 284.0 512.2 283.9 512.3 283.8 512.4 283.7 512.5 283.6 512.5 283.5 512.6 283.4 512.7 283.4 512.8 283.3 512.9 283.2 513.0 283.1 513.1 283.0 513.2 282.9 513.3 282.8 513.4 282.7 513.5 282.7 513.6 282.6 513.7 282.5 513.8 282.4 513.9 282.3 514.0 282.2 514.1 282.1 514.2 282.0 514.3 281.9 514.4 281.9 514.5 281.8 514.6 281.7 514.7 281.6 514.8 281.5 515.0 281.4 515.1 281.3 515.2 281.2 515.3 281.1 515.4 281.0 515.6 280.9 515.7 280.9 515.8 280.8 515.9 280.7 516.1 280.6 516.2 280.5 516.3 280.4 516.5 280.3 516.6 280.2 516.7 280.1 516.9 280.0 517.0 279.9 517.2 279.8 517.3 279.7 517.5 279.6 517.6 279.5 517.8 279.4 517.9 279.3 518.1 279.2 518.2 279.1 518.4 279.0 518.5 279.0 518.7 278.9 518.9 278.8 519.0 278.7 519.2 278.6 519.4 278.5 519.6 278.4 519.7 278.3 519.9 278.2 520.1 278.1 520.3 278.0 520.5 277.9 520.7 277.8 520.8 277.6 521.0 277.5 521.2 277.4 521.4 277.3 521.6 277.2 521.8 277.1 522.0 277.0 522.2 276.9 522.5 276.8 522.7 276.7 522.9 276.6 523.1 276.5 523.3 276.4 523.6 276.3 523.8 276.2 524.0 276.1 524.2 276.0 524.5 275.9 524.7 275.7 525.0 275.6 525.2 275.5 525.4 275.4 525.7 275.3 525.9 275.2 526.2 275.1 526.5 275.0 526.7 274.9 527.0 274.7 527.3 274.6 527.5 274.5 527.8 274.4 528.1 274.3 528.4 274.2 528.6 274.1 528.9 273.9 529.2 273.8 529.5 273.7 529.8 273.6 530.1 273.5 530.4 273.3 530.7 273.2 531.0 273.1 531.3 273.0 531.7 272.9 532.0 272.7 532.3 272.6 532.6 272.5 533.0 272.4 533.3 272.2 533.6 272.1 534.0 272.0 534.3 271.9 534.7 271.7 535.0 271.6 535.4 271.5 535.8 271.4 536.1 271.2 536.5 271.1 536.9 271.0 537.2 270.9 537.6 270.7 538.0 270.6 538.4 270.5 538.8 270.3 539.2 270.2 539.6 270.1 540.0 270.0 540.4 269.8 540.8 269.7 541.2 269.6 541.6 269.4 542.1 269.3 542.5 269.2 542.9 269.0 543.4 268.9 543.8 268.8 544.2 268.6 544.7 268.5 545.1 268.4 545.6 268.2 546.1 268.1 546.5 268.0 547.0 267.8 547.5 267.7 548.0 267.6 548.5 267.4 548.9 267.3 549.4 267.2 549.9 267.0 550.4 266.9 550.9 266.7 551.5 266.6 552.0 266.5 552.5 266.3 553.0 266.2 553.6 266.0 554.1 265.9 554.6 265.8 555.2 265.6 555.7 265.5 556.3 265.3 556.8 265.2 557.4 265.0 558.0 264.9 558.6 264.8 559.1 264.6 559.7 264.5 560.3 264.3 560.9 264.2 561.5 264.0 562.1 263.9 562.7 263.7 563.3 263.6 564.0 263.4 564.6 263.3 565.2 263.1 565.9 263.0 566.5 262.8 567.2 262.7 567.8 262.5 568.5 262.4 569.1 262.2 569.8 262.1 570.5 261.9 571.1 261.8 571.8 261.6 572.5 261.5 573.2 261.3 573.9 261.2 574.6 261.0 575.3 260.9 576.1 260.7 576.8 260.5 577.5 260.4 578.3 260.2 579.0 260.1 579.7 259.9 580.5 259.8 581.3 259.6 582.0 259.4 582.8 259.3 583.6 259.1 584.4 259.0 585.1 258.8 585.9 258.6 586.7 258.5 587.5 258.3 588.4 258.2 589.2 258.0 590.0 257.8 590.8 257.7 591.7 257.5 592.5 257.4 593.4 257.2 594.2 257.0 595.1 256.9 595.9 256.7 596.8 256.5" stroke="#ff0000" stroke-width="5.8"/>
<path d="M596.8 256.5L597.7 256.4 598.6 256.2 599.5 256.0 600.4 255.9 601.3 255.7 602.2 255.5 603.1 255.4 604.0 255.2 605.0 255.0 605.9 254.9 606.9 254.7 607.8 254.5 608.8 254.4 609.7 254.2 610.7 254.0 611.7 253.9 612.7 253.7 613.7 253.5 614.6 253.4 615.7 253.2 616.7 253.0 617.7 252.9 618.7 252.7 619.7 252.5 620.8 252.4 621.8 252.2 622.9 252.0 623.9 251.8 625.0 251.7 626.1 251.5 627.2 251.3 628.2 251.2 629.3 251.0 630.4 250.8 631.6 250.7 632.7 250.5 633.8 250.3 634.9 250.2 636.1 250.0 637.2 249.8 638.4 249.7 639.5 249.5 640.7 249.3 641.9 249.2 643.0 249.0 644.2 248.8 645.4 248.6 646.6 248.5 647.8 248.3" stroke="#ff0000" stroke-width="5.6"/>
<path d="M647.8 248.3L649.1 248.1 650.3 248.0 651.5 247.8 652.8 247.6 654.0 247.5 655.3 247.3 656.5 247.1 657.8 247.0 659.1 246.8 660.4 246.7 661.7 246.5 663.0 246.3 664.3 246.2 665.6 246.0 666.9 245.8 668.3 245.7 669.6 245.5 671.0 245.3 672.3 245.2 673.7 245.0 675.1 244.9 676.5 244.7 677.8 244.5 679.2 244.4 680.7 244.2 682.1 244.1 683.5 243.9 684.9 243.7 686.4 243.6 687.8 243.4 689.3 243.3 690.7 243.1 692.2 242.9 693.7 242.8 695.2 242.6 696.7 242.5 698.2 242.3 699.7 242.2 701.2 242.0 702.7 241.9 704.3 241.7 705.8 241.6 707.4 241.4 709.0 241.3 710.5 241.1 712.1 241.0 713.7 240.8 715.3 240.7 716.9 240.5 718.5 240.4 720.2 240.2 721.8 240.1 723.4 239.9 725.1 239.8 726.8 239.6 728.4 239.5 730.1 239.3 731.8 239.2 733.5 239.1 735.2 238.9 736.9 238.8 738.6 238.6 740.4 238.5 742.1 238.4 743.9 238.2 745.6 238.1 747.4 237.9 749.2 237.8 751.0 237.7 752.8 237.5 754.6 237.4 756.4 237.3 758.2 237.1 760.0 237.0 761.9 236.9 763.7 236.7 765.6 236.6 767.5 236.5 769.3 236.3 771.2 236.2 773.1 236.1 775.0 236.0 777.0 235.8 778.9 235.7 780.8 235.6 782.8 235.4 784.7 235.3 786.7 235.2 788.7 235.1 790.7 235.0 792.7 234.8 794.7 234.7 796.7 234.6 798.7 234.5 800.7 234.3 802.8 234.2 804.8 234.1 806.9 234.0 809.0 233.9 811.1 233.8 813.2 233.6 815.3 233.5 817.4 233.4 819.5 233.3 821.7 233.2 823.8 233.1 826.0 233.0 828.1 232.8 830.3 232.7 832.5 232.6 834.7 232.5 836.9 232.4 839.1 232.3 841.3 232.2 843.6 232.1 845.8 232.0 848.1 231.9 850.3 231.8 852.6 231.7 854.9 231.6 857.2 231.5 859.5 231.4 861.8 231.3 864.2 231.1 866.5 231.0 868.9 230.9 871.2 230.8 873.6 230.7 876.0 230.7 878.4 230.6 880.8 230.5 883.2 230.4 885.6 230.3 888.1 230.2 890.5 230.1 893.0 230.0 895.4 229.9 897.9 229.8 900.4 229.7 902.9 229.6 905.4 229.5 908.0 229.4 910.5 229.3 913.0 229.2 915.6 229.2" stroke="#ff0000" stroke-width="5.4"/>
<path d="M104.0 491.3L106.6 491.2 109.1 491.1 111.6 491.0 114.2 490.9 116.7 490.8 119.2 490.7 121.7 490.7 124.2 490.6 126.6 490.5 129.1 490.4 131.5 490.3 134.0 490.2 136.4 490.1 138.8 490.0 141.2 489.9 143.6 489.8 146.0 489.7 148.4 489.6 150.7 489.5 153.1 489.4 155.4 489.3 157.8 489.2 160.1 489.1 162.4 489.0 164.7 488.9 167.0 488.8 169.3 488.7 171.5 488.6 173.8 488.5 176.0 488.4 178.3 488.3 180.5 488.2 182.7 488.1 184.9 488.0 187.1 487.9 189.3 487.8 191.5 487.7 193.6 487.6 195.8 487.5 197.9 487.3 200.1 487.2 202.2 487.1 204.3 487.0 206.4 486.9 208.5 486.8 210.6 486.7 212.7 486.6 214.8 486.4 216.8 486.3 218.9 486.2 220.9 486.1 222.9 486.0 224.9 485.9 226.9 485.7 228.9 485.6 230.9 485.5 232.9 485.4 234.9 485.3 236.8 485.1 238.8 485.0 240.7 484.9 242.6 484.8 244.6 484.6 246.5 484.5 248.4 484.4 250.3 484.3 252.1 484.1 254.0 484.0 255.9 483.9 257.7 483.8 259.6 483.6 261.4 483.5 263.2 483.4 265.0 483.2 266.8 483.1 268.6 483.0 270.4 482.8 272.2 482.7 274.0 482.6 275.7 482.4 277.5 482.3 279.2 482.2 281.0 482.0 282.7 481.9 284.4 481.7 286.1 481.6 287.8 481.5 289.5 481.3 291.2 481.2 292.8 481.0 294.5 480.9 296.2 480.8 297.8 480.6 299.4 480.5 301.1 480.3 302.7 480.2 304.3 480.0 305.9 479.9 307.5 479.7 309.1 479.6 310.6 479.4 312.2 479.3 313.8 479.2 315.3 479.0 316.9 478.9 318.4 478.7 319.9 478.5 321.4 478.4 322.9 478.2 324.4 478.1 325.9 477.9 327.4 477.8 328.9 477.6 330.3 477.5 331.8 477.3 333.2 477.2 334.7 477.0 336.1 476.8 337.5 476.7 338.9 476.5 340.4 476.4 341.8 476.2 343.1 476.1 344.5 475.9 345.9 475.7 347.3 475.6 348.6 475.4 350.0 475.3 351.3 475.1 352.7 474.9 354.0 474.8 355.3 474.6 356.6 474.4 357.9 474.3 359.2 474.1 360.5 473.9 361.8 473.8 363.1 473.6 364.3 473.4 365.6 473.3 366.8 473.1 368.1 472.9 369.3 472.8 370.5 472.6 371.8 472.4 373.0 472.3 374.2 472.1 375.4 471.9 376.6 471.8 377.7 471.6 378.9 471.4 380.1 471.3 381.2 471.1 382.4 470.9 383.5 470.8 384.7 470.6 385.8 470.4 386.9 470.2 388.0 470.1 389.2 469.9 390.3 469.7 391.4 469.6 392.4 469.4 393.5 469.2 394.6 469.0 395.7 468.9 396.7 468.7 397.8 468.5 398.8 468.4 399.9 468.2 400.9 468.0 401.9 467.8 402.9 467.7 403.9 467.5 405.0 467.3 405.9 467.2 406.9 467.0 407.9 466.8 408.9 466.6 409.9 466.5 410.8 466.3 411.8 466.1 412.7 466.0 413.7 465.8 414.6 465.6 415.6 465.4 416.5 465.3 417.4 465.1 418.3 464.9 419.2 464.8 420.1 464.6 421.0 464.4 421.9 464.3 422.8 464.1 423.7 463.9 424.5 463.8 425.4 463.6 426.2 463.4 427.1 463.3 427.9 463.1 428.8 462.9 429.6 462.7 430.4 462.6 431.2 462.4 432.1 462.3 432.9 462.1 433.7 461.9 434.5 461.8 435.2 461.6 436.0 461.4 436.8 461.3 437.6 461.1 438.3 460.9 439.1 460.8 439.9 460.6 440.6 460.4 441.3 460.3 442.1 460.1 442.8 460.0 443.5 459.8 444.3 459.6 445.0 459.5 445.7 459.3 446.4 459.2 447.1 459.0 447.8 458.9 448.5 458.7 449.1 458.5 449.8 458.4 450.5 458.2 451.1 458.1 451.8 457.9 452.4 457.8 453.1 457.6 453.7 457.5 454.4 457.3 455.0 457.2 455.6 457.0 456.3 456.8 456.9 456.7 457.5 456.5 458.1 456.4 458.7 456.2 459.3 456.1 459.9 456.0 460.5 455.8 461.0 455.7 461.6 455.5 462.2 455.4 462.8 455.2 463.3 455.1 463.9 454.9 464.4 454.8 465.0 454.6 465.5 454.5 466.0 454.4 466.6 454.2 467.1 454.1 467.6 453.9 468.1 453.8 468.7 453.7 469.2 453.5 469.7 453.4 470.2 453.2 470.7 453.1 471.1 453.0 471.6 452.8 472.1 452.7 472.6 452.6 473.1 452.4 473.5 452.3 474.0 452.2 474.5 452.0 474.9 451.9 475.4 451.8 475.8 451.6 476.2 451.5 476.7 451.4 477.1 451.2 477.5 451.1 478.0 451.0 478.4 450.9 478.8 450.7 479.2 450.6 479.6 450.5 480.0 450.4 480.4 450.2 480.8 450.1 481.2 450.0 481.6 449.9 482.0 449.7 482.4 449.6 482.7 449.5 483.1 449.4 483.5 449.2 483.8 449.1 484.2 449.0 484.6 448.9 484.9 448.8 485.3 448.6 485.6 448.5 486.0 448.4 486.3 448.3 486.6 448.2 487.0 448.1 487.3 447.9 487.6 447.8 487.9 447.7 488.3 447.6 488.6 447.5 488.9 447.4 489.2 447.3 489.5 447.1 489.8 447.0 490.1 446.9 490.4 446.8 490.7 446.7 491.0 446.6 491.2 446.5 491.5 446.4 491.8 446.3 492.1 446.1 492.3 446.0 492.6 445.9 492.9 445.8 493.1 445.7 493.4 445.6 493.7 445.5 493.9 445.4 494.2 445.3 494.4 445.2 494.6 445.1 494.9 445.0 495.1 444.9 495.4 444.8 495.6 444.7 495.8 444.6 496.0 444.5 496.3 444.4 496.5 444.3 496.7 444.1 496.9 444.0 497.1 443.9 497.4 443.8 497.6 443.7 497.8 443.6 498.0 443.5 498.2 443.4 498.4 443.3 498.6 443.2 498.8 443.1 498.9 443.0 499.1 443.0 499.3 442.9 499.5 442.8 499.7 442.7 499.9 442.6 500.0 442.5 500.2 442.4 500.4 442.3 500.6 442.2 500.7 442.1 500.9 442.0 501.1 441.9 501.2 441.8 501.4 441.7 501.5 441.6 501.7 441.5 501.8 441.4 502.0 441.3 502.1 441.2 502.3 441.1 502.4 441.0 502.6 440.9 502.7 440.9 502.9 440.8 503.0 440.7 503.1 440.6 503.3 440.5 503.4 440.4 503.5 440.3 503.7 440.2 503.8 440.1 503.9 440.0 504.0 439.9 504.2 439.8 504.3 439.8 504.4 439.7 504.5 439.6 504.6 439.5 504.8 439.4 504.9 439.3 505.0 439.2 505.1 439.1 505.2 439.0 505.3 438.9 505.4 438.9 505.5 438.8 505.6 438.7 505.7 438.6 505.8 438.5 505.9 438.4 506.0 438.3 506.1 438.2 506.2 438.1 506.3 438.0 506.4 438.0 506.5 437.9 506.6 437.8 506.7 437.7 506.8 437.6 506.9 437.5 507.0 437.4 507.1 437.3 507.1 437.2 507.2 437.1 507.3 437.1 507.4 437.0 507.5 436.9 507.6 436.8 507.6 436.7 507.7 436.6 507.8 436.5 507.9 436.4 508.0 436.3 508.0 436.2 508.1 436.1 508.2 436.0 508.3 435.9 508.4 435.8 508.4 435.7 508.5 435.6 508.6 435.5 508.7 435.4 508.7 435.3 508.8 435.2 508.9 435.1 509.0 435.0 509.0 434.9 509.1 434.8 509.2 434.7 509.3 434.6 509.3 434.5 509.4 434.4 509.5 434.2 509.5 434.1 509.6 434.0 509.7 433.9 509.8 433.8 509.8 433.6 509.9 433.5 510.0 433.4 510.1 433.3 510.1 433.1 510.2 433.0 510.3 432.9 510.3 432.7 510.4 432.6 510.5 432.4 510.6 432.3 510.6 432.1 510.7 432.0 510.8 431.8 510.9 431.7 510.9 431.5 511.0 431.3" stroke="#ff0000" stroke-width="5.2"/>
<path d="M511.0 431.3L511.1 431.1 511.2 431.0 511.2 430.8 511.3 430.6 511.4 430.4 511.5 430.2 511.6 430.0 511.6 429.8 511.7 429.5 511.8 429.3 511.9 429.1 512.0 428.8 512.0 428.6 512.1 428.3 512.2 428.0 512.3 427.7 512.4 427.4 512.5 427.1 512.5 426.8 512.6 426.5 512.7 426.1 512.8 425.8 512.9 425.4 513.0 425.0 513.1 424.5 513.2 424.1 513.3 423.6 513.4 423.2 513.5 422.7 513.6 422.1 513.7 421.6 513.8 421.0 513.9 420.4 514.0 419.7 514.1 419.0 514.2 418.3 514.3 417.6 514.4 416.8" stroke="#ff0000" stroke-width="5.4"/>
<path d="M514.4 416.8L514.5 415.9 514.6 415.1 514.7 414.1 514.8 413.2 515.0 412.2 515.1 411.2 515.2 410.1 515.3 409.0 515.4 407.9 515.6 406.7 515.7 405.5 515.8 404.4 515.9 403.2 516.1 402.0 516.2 400.8 516.3 399.6 516.5 398.4 516.6 397.3 516.7 396.2 516.9 395.1 517.0 394.0 517.2 393.0 517.3 392.0 517.5 391.1 517.6 390.1 517.8 389.3 517.9 388.4 518.1 387.6 518.2 386.8 518.4 386.1 518.5 385.4 518.7 384.7 518.9 384.0 519.0 383.4 519.2 382.8 519.4 382.2 519.6 381.6 519.7 381.1 519.9 380.5 520.1 380.0 520.3 379.5 520.5 379.0 520.7 378.5 520.8 378.0 521.0 377.5 521.2 377.0 521.4 376.5 521.6 376.1 521.8 375.6 522.0 375.1 522.2 374.6 522.5 374.1 522.7 373.6 522.9 373.1 523.1 372.6 523.3 372.0 523.6 371.4 523.8 370.8 524.0 370.1" stroke="#ff0000" stroke-width="5.6"/>
<path d="M524.0 370.1L524.2 369.3 524.5 368.5 524.7 367.6 525.0 366.6 525.2 365.4 525.4 364.1 525.7 362.7 525.9 361.3 526.2 359.9 526.5 358.5 526.7 357.3 527.0 356.2 527.3 355.2 527.5 354.2 527.8 353.3 528.1 352.5 528.4 351.7 528.6 350.9 528.9 350.2 529.2 349.4 529.5 348.6 529.8 347.8 530.1 347.0 530.4 346.2 530.7 345.3 531.0 344.5 531.3 343.5 531.7 342.5 532.0 341.5 532.3 340.4 532.6 339.2 533.0 338.0 533.3 336.7 533.6 335.3 534.0 333.8 534.3 332.2 534.7 330.6 535.0 328.9 535.4 327.1 535.8 325.3 536.1 323.4 536.5 321.5 536.9 319.7 537.2 317.9 537.6 316.1 538.0 314.4 538.4 312.7 538.8 311.2 539.2 309.7 539.6 308.3 540.0 307.0 540.4 305.7 540.8 304.5 541.2 303.3 541.6 302.3 542.1 301.2 542.5 300.2 542.9 299.2 543.4 298.3 543.8 297.4 544.2 296.4 544.7 295.5 545.1 294.5 545.6 293.5 546.1 292.4 546.5 291.4 547.0 290.4 547.5 289.5 548.0 288.7 548.5 288.0 548.9 287.3 549.4 286.6 549.9 286.0 550.4 285.4 550.9 284.8 551.5 284.2 552.0 283.6 552.5 283.1 553.0 282.5 553.6 282.0 554.1 281.5 554.6 281.0 555.2 280.5 555.7 280.0 556.3 279.5 556.8 279.0 557.4 278.5 558.0 278.0 558.6 277.6 559.1 277.1 559.7 276.6 560.3 276.2 560.9 275.7 561.5 275.2 562.1 274.8 562.7 274.3 563.3 273.9 564.0 273.4 564.6 272.9 565.2 272.5 565.9 272.0 566.5 271.6 567.2 271.1 567.8 270.7 568.5 270.3 569.1 269.8 569.8 269.4 570.5 269.0 571.1 268.5 571.8 268.1 572.5 267.7 573.2 267.3 573.9 266.9 574.6 266.6 575.3 266.2 576.1 265.8 576.8 265.5 577.5 265.1 578.3 264.8 579.0 264.4 579.7 264.1 580.5 263.8 581.3 263.4 582.0 263.1 582.8 262.8 583.6 262.5 584.4 262.2 585.1 261.9 585.9 261.6 586.7 261.4 587.5 261.1 588.4 260.8 589.2 260.5 590.0 260.3 590.8 260.0 591.7 259.7 592.5 259.5 593.4 259.2 594.2 259.0 595.1 258.7 595.9 258.5 596.8 258.2 597.7 258.0 598.6 257.7" stroke="#ff0000" stroke-width="5.8"/>
<path d="M598.6 257.7L599.5 257.5 600.4 257.3 601.3 257.0 602.2 256.8 603.1 256.6 604.0 256.4 605.0 256.1 605.9 255.9 606.9 255.7 607.8 255.5 608.8 255.3 609.7 255.0 610.7 254.8 611.7 254.6 612.7 254.4 613.7 254.2 614.6 254.0 615.7 253.8 616.7 253.6 617.7 253.4 618.7 253.2 619.7 253.0 620.8 252.8 621.8 252.6 622.9 252.4 623.9 252.2 625.0 252.0 626.1 251.8 627.2 251.6 628.2 251.4 629.3 251.2 630.4 251.0 631.6 250.8 632.7 250.6 633.8 250.4 634.9 250.2 636.1 250.0 637.2 249.9 638.4 249.7 639.5 249.5 640.7 249.3 641.9 249.1 643.0 248.9 644.2 248.8 645.4 248.6 646.6 248.4 647.8 248.2" stroke="#ff0000" stroke-width="5.6"/>
<path d="M647.8 248.2L649.1 248.0 650.3 247.8 651.5 247.7 652.8 247.5 654.0 247.3 655.3 247.1 656.5 247.0 657.8 246.8 659.1 246.6 660.4 246.4 661.7 246.3 663.0 246.1 664.3 245.9 665.6 245.8 666.9 245.6 668.3 245.4 669.6 245.2 671.0 245.1 672.3 244.9 673.7 244.7 675.1 244.6 676.5 244.4 677.8 244.3 679.2 244.1 680.7 243.9 682.1 243.8 683.5 243.6 684.9 243.4 686.4 243.3 687.8 243.1 689.3 243.0 690.7 242.8 692.2 242.7 693.7 242.5 695.2 242.3 696.7 242.2 698.2 242.0 699.7 241.9 701.2 241.7 702.7 241.6 704.3 241.4 705.8 241.3 707.4 241.1 709.0 241.0 710.5 240.8 712.1 240.7 713.7 240.5 715.3 240.4 716.9 240.2 718.5 240.1 720.2 239.9 721.8 239.8 723.4 239.7 725.1 239.5 726.8 239.4 728.4 239.2 730.1 239.1 731.8 238.9 733.5 238.8 735.2 238.7 736.9 238.5 738.6 238.4 740.4 238.3 742.1 238.1 743.9 238.0 745.6 237.8 747.4 237.7 749.2 237.6 751.0 237.4 752.8 237.3 754.6 237.2 756.4 237.1 758.2 236.9 760.0 236.8 761.9 236.7 763.7 236.5 765.6 236.4 767.5 236.3 769.3 236.2 771.2 236.0 773.1 235.9 775.0 235.8 777.0 235.7 778.9 235.5 780.8 235.4 782.8 235.3 784.7 235.2 786.7 235.1 788.7 234.9 790.7 234.8 792.7 234.7 794.7 234.6 796.7 234.5 798.7 234.4 800.7 234.2 802.8 234.1 804.8 234.0 806.9 233.9 809.0 233.8 811.1 233.7 813.2 233.6 815.3 233.5 817.4 233.3 819.5 233.2 821.7 233.1 823.8 233.0 826.0 232.9 828.1 232.8 830.3 232.7 832.5 232.6 834.7 232.5 836.9 232.4 839.1 232.3 841.3 232.2 843.6 232.1 845.8 232.0 848.1 231.9 850.3 231.8 852.6 231.7 854.9 231.6 857.2 231.5 859.5 231.4 861.8 231.3 864.2 231.2 866.5 231.1 868.9 231.0 871.2 230.9 873.6 230.8 876.0 230.7 878.4 230.6 880.8 230.5 883.2 230.4 885.6 230.3 888.1 230.2 890.5 230.1 893.0 230.0 895.4 230.0 897.9 229.9 900.4 229.8 902.9 229.7 905.4 229.6 908.0 229.5 910.5 229.4 913.0 229.3 915.6 229.3" stroke="#ff0000" stroke-width="5.4"/>
<path d="M509.8 360.3L510.2 360.1 510.7 359.8 511.1 359.6 511.5 359.3 511.9 359.0 512.2 358.7 512.6 358.4 513.0 358.2 513.3 357.8 513.7 357.5 514.0 357.2 514.4 356.9 514.7 356.6 515.0 356.2 515.5 355.8 515.9 355.2 516.3 354.7 516.7 354.2 517.1 353.7 517.5 353.1 517.9 352.6 518.3 352.0 518.7 351.4 519.0 350.9 519.4 350.3 519.7 349.7 520.1 349.1 520.4 348.5 520.7 347.9 521.0 347.4 521.4 346.8 521.7 346.2 522.0 345.6 522.3 345.0 522.6 344.5 522.9 343.9 523.2 343.3 523.5 342.7 523.8 342.1 524.1 341.5 524.4 340.9 524.7 340.3 525.0 339.8 525.3 339.3 525.5 338.9 525.7 338.4 526.0 337.9 526.2 337.4 526.5 337.0 526.7 336.5 527.0 336.0 527.2 335.5 527.5 335.1 527.7 334.6 527.9 334.1 528.2 333.7 528.4 333.2 528.7 332.7 528.9 332.3 529.2 331.8 529.4 331.3 529.7 330.9 530.0 330.4 530.2 330.0 530.5 329.5 530.7 329.1 531.0 328.6 531.2 328.2 531.5 327.7 531.7 327.3 532.0 326.8 532.2 326.3 532.5 325.9 532.8 325.4 533.0 325.0 533.3 324.5 533.5 324.1 533.8 323.6 534.0 323.2 534.3 322.7 534.5 322.3 534.8 321.8 535.0 321.4 535.3 320.9 535.5 320.5 535.7 320.1 535.9 319.8 536.1 319.4 536.3 319.1 536.4 318.8 536.6 318.4 536.8 318.1 537.0 317.8 537.1 317.4 537.3 317.1 537.5 316.7 537.7 316.4 537.8 316.0 538.0 315.7" stroke="#ff0000" stroke-width="5.8"/>
<path d="M104.0 460.8L106.6 460.7 109.1 460.6 111.6 460.5 114.2 460.4 116.7 460.3 119.2 460.2 121.7 460.2 124.2 460.1 126.6 460.0 129.1 459.9 131.5 459.8 134.0 459.7 136.4 459.6 138.8 459.6 141.2 459.5 143.6 459.4 146.0 459.3 148.4 459.2 150.7 459.1 153.1 459.0 155.4 458.9 157.8 458.8 160.1 458.7 162.4 458.6 164.7 458.6 167.0 458.5 169.3 458.4 171.5 458.3 173.8 458.2 176.0 458.1 178.3 458.0 180.5 457.9 182.7 457.8 184.9 457.7 187.1 457.6 189.3 457.5 191.5 457.4 193.6 457.3 195.8 457.2 197.9 457.1 200.1 457.0 202.2 456.9 204.3 456.8 206.4 456.7 208.5 456.6 210.6 456.5 212.7 456.4 214.8 456.3 216.8 456.2 218.9 456.1 220.9 456.0 222.9 455.9 224.9 455.8 226.9 455.7 228.9 455.6 230.9 455.5 232.9 455.3 234.9 455.2 236.8 455.1 238.8 455.0 240.7 454.9 242.6 454.8 244.6 454.7 246.5 454.6 248.4 454.5 250.3 454.4 252.1 454.2 254.0 454.1 255.9 454.0 257.7 453.9 259.6 453.8 261.4 453.7 263.2 453.5 265.0 453.4 266.8 453.3 268.6 453.2 270.4 453.1 272.2 453.0 274.0 452.8 275.7 452.7 277.5 452.6 279.2 452.5 281.0 452.4 282.7 452.2 284.4 452.1 286.1 452.0 287.8 451.9 289.5 451.7 291.2 451.6 292.8 451.5 294.5 451.4 296.2 451.2 297.8 451.1 299.4 451.0 301.1 450.9 302.7 450.7 304.3 450.6 305.9 450.5 307.5 450.3 309.1 450.2 310.6 450.1 312.2 449.9 313.8 449.8 315.3 449.7 316.9 449.5 318.4 449.4 319.9 449.3 321.4 449.1 322.9 449.0 324.4 448.9 325.9 448.7 327.4 448.6 328.9 448.5 330.3 448.3 331.8 448.2 333.2 448.0 334.7 447.9 336.1 447.7 337.5 447.6 338.9 447.5 340.4 447.3 341.8 447.2 343.1 447.0 344.5 446.9 345.9 446.7 347.3 446.6 348.6 446.4 350.0 446.3 351.3 446.1 352.7 446.0 354.0 445.8 355.3 445.7 356.6 445.5 357.9 445.4 359.2 445.2 360.5 445.1 361.8 444.9 363.1 444.8 364.3 444.6 365.6 444.5 366.8 444.3 368.1 444.1 369.3 444.0 370.5 443.8 371.8 443.7 373.0 443.5 374.2 443.3 375.4 443.2 376.6 443.0 377.7 442.9 378.9 442.7 380.1 442.5 381.2 442.4 382.4 442.2 383.5 442.0 384.7 441.9 385.8 441.7 386.9 441.5 388.0 441.4 389.2 441.2 390.3 441.0 391.4 440.9 392.4 440.7 393.5 440.5 394.6 440.3 395.7 440.2 396.7 440.0 397.8 439.8 398.8 439.6 399.9 439.5 400.9 439.3 401.9 439.1 402.9 438.9 403.9 438.8 405.0 438.6 405.9 438.4 406.9 438.2 407.9 438.0 408.9 437.8 409.9 437.7 410.8 437.5 411.8 437.3 412.7 437.1 413.7 436.9 414.6 436.7 415.6 436.5 416.5 436.3 417.4 436.2 418.3 436.0 419.2 435.8 420.1 435.6 421.0 435.4 421.9 435.2 422.8 435.0 423.7 434.8 424.5 434.6 425.4 434.4 426.2 434.2 427.1 434.0 427.9 433.8 428.8 433.6 429.6 433.4 430.4 433.2 431.2 433.0 432.1 432.8 432.9 432.6 433.7 432.3 434.5 432.1 435.2 431.9 436.0 431.7 436.8 431.5 437.6 431.3 438.3 431.0 439.1 430.8 439.9 430.6 440.6 430.4 441.3 430.2 442.1 429.9 442.8 429.7 443.5 429.5 444.3 429.3 445.0 429.0 445.7 428.8 446.4 428.5 447.1 428.3 447.8 428.1 448.5 427.8 449.1 427.6 449.8 427.3 450.5 427.1 451.1 426.8 451.8 426.6 452.4 426.3 453.1 426.1 453.7 425.8 454.4 425.6 455.0 425.3 455.6 425.0 456.3 424.8 456.9 424.5 457.5 424.2 458.1 423.9 458.7 423.7 459.3 423.4 459.9 423.1 460.5 422.8 461.0 422.5 461.6 422.2 462.2 421.9 462.8 421.6 463.3 421.3 463.9 421.0 464.4 420.7 465.0 420.4 465.5 420.1 466.0 419.8 466.6 419.4 467.1 419.1 467.6 418.8 468.1 418.4 468.7 418.1" stroke="#00ff00" stroke-width="5.2"/>
<path d="M468.7 418.1L469.2 417.8 469.7 417.4 470.2 417.1 470.7 416.7 471.1 416.3 471.6 416.0 472.1 415.6 472.6 415.2 473.1 414.9 473.5 414.5 474.0 414.1 474.5 413.7 474.9 413.3 475.4 412.9 475.8 412.5 476.2 412.1 476.7 411.7 477.1 411.3 477.5 410.9 478.0 410.5 478.4 410.1 478.8 409.6 479.2 409.2 479.6 408.8 480.0 408.4" stroke="#00ff00" stroke-width="5.4"/>
<path d="M480.0 408.4L480.4 407.9 480.8 407.5 481.2 407.1 481.6 406.6 482.0 406.2 482.4 405.7 482.7 405.3 483.1 404.8 483.5 404.4 483.8 404.0 484.2 403.5 484.6 403.1 484.9 402.6 485.3 402.2 485.6 401.7 486.0 401.3 486.3 400.8 486.6 400.4 487.0 400.0 487.3 399.5 487.6 399.1 487.9 398.6 488.3 398.2 488.6 397.8 488.9 397.3 489.2 396.9 489.5 396.5 489.8 396.0 490.1 395.6 490.4 395.2 490.7 394.7 491.0 394.3 491.2 393.9 491.5 393.4 491.8 393.0 492.1 392.5 492.3 392.1 492.6 391.6 492.9 391.1 493.1 390.7 493.4 390.2 493.7 389.7 493.9 389.2 494.2 388.7 494.4 388.2 494.6 387.6 494.9 387.1 495.1 386.5 495.4 386.0 495.6 385.4 495.8 384.8 496.0 384.2 496.3 383.6 496.5 383.1 496.7 382.5 496.9 381.9 497.1 381.4 497.4 380.8 497.6 380.3 497.8 379.8 498.0 379.3 498.2 378.8 498.4 378.3 498.6 377.9 498.8 377.5 498.9 377.0 499.1 376.6 499.3 376.2 499.5 375.8 499.7 375.4 499.9 375.0 500.0 374.7 500.2 374.3 500.4 373.9 500.6 373.6 500.7 373.2 500.9 372.8 501.1 372.5 501.2 372.1 501.4 371.8 501.5 371.4 501.7 371.1 501.8 370.8 502.0 370.5" stroke="#00ff00" stroke-width="5.6"/>
<path d="M502.0 370.5L502.1 370.1 502.3 369.8 502.4 369.5 502.6 369.2 502.7 368.9 502.9 368.6 503.0 368.3 503.1 368.0 503.3 367.7 503.4 367.5 503.5 367.2 503.7 366.9 503.8 366.6 503.9 366.4 504.0 366.1 504.2 365.8 504.3 365.5 504.4 365.3 504.5 365.0 504.6 364.7 504.8 364.5 504.9 364.2 505.0 363.9 505.1 363.6 505.2 363.4 505.3 363.1 505.4 362.8 505.5 362.6 505.6 362.3 505.7 362.0 505.8 361.7 505.9 361.5 506.0 361.2 506.1 360.9 506.2 360.6 506.3 360.4 506.4 360.1 506.5 359.8 506.6 359.6 506.7 359.3 506.8 359.0 506.9 358.8 507.0 358.5 507.1 358.3 507.1 358.0 507.2 357.8 507.3 357.5 507.4 357.3 507.5 357.1 507.6 356.9 507.6 356.6 507.7 356.4 507.8 356.2 507.9 356.0 508.0 355.8 508.0 355.6 508.1 355.4 508.2 355.2 508.3 355.0 508.4 354.8 508.4 354.6 508.5 354.4 508.6 354.2 508.7 354.1 508.7 353.9 508.8 353.7 508.9 353.5 509.0 353.4 509.0 353.2 509.1 353.0 509.2 352.9 509.3 352.7 509.3 352.5 509.4 352.4 509.5 352.2 509.5 352.0 509.6 351.9 509.7 351.7 509.8 351.6 509.8 351.4 509.9 351.2 510.0 351.1 510.1 350.9 510.1 350.8 510.2 350.6 510.3 350.5 510.3 350.3 510.4 350.1 510.5 350.0 510.6 349.8 510.6 349.7 510.7 349.5 510.8 349.3 510.9 349.2 510.9 349.0 511.0 348.8 511.1 348.7 511.2 348.5 511.2 348.3 511.3 348.2 511.4 348.0 511.5 347.8 511.6 347.7 511.6 347.5 511.7 347.3 511.8 347.1 511.9 346.9 512.0 346.7 512.0 346.6 512.1 346.4 512.2 346.2 512.3 346.0 512.4 345.8 512.5 345.6 512.5 345.4 512.6 345.2 512.7 345.0 512.8 344.7 512.9 344.5 513.0 344.3 513.1 344.1 513.2 343.9 513.3 343.6 513.4 343.4 513.5 343.2 513.6 342.9 513.7 342.7 513.8 342.4 513.9 342.2 514.0 341.9 514.1 341.6 514.2 341.4 514.3 341.1 514.4 340.8 514.5 340.5 514.6 340.2 514.7 339.9 514.8 339.6 515.0 339.3 515.1 339.0 515.2 338.7 515.3 338.4 515.4 338.0 515.6 337.7 515.7 337.4 515.8 337.0 515.9 336.7 516.1 336.3 516.2 336.0 516.3 335.6 516.5 335.2 516.6 334.8 516.7 334.5 516.9 334.1 517.0 333.7 517.2 333.3 517.3 332.9 517.5 332.5 517.6 332.1 517.8 331.7 517.9 331.3 518.1 330.8 518.2 330.4 518.4 330.0 518.5 329.6 518.7 329.2 518.9 328.7 519.0 328.3 519.2 327.9 519.4 327.5 519.6 327.1 519.7 326.6 519.9 326.2 520.1 325.8 520.3 325.4 520.5 325.0 520.7 324.5 520.8 324.1 521.0 323.7 521.2 323.3 521.4 322.9 521.6 322.5 521.8 322.1 522.0 321.7 522.2 321.3 522.5 320.9 522.7 320.5 522.9 320.2 523.1 319.8 523.3 319.4 523.6 319.0 523.8 318.7 524.0 318.3 524.2 317.9 524.5 317.6 524.7 317.2 525.0 316.9 525.2 316.5 525.4 316.2 525.7 315.8 525.9 315.5 526.2 315.1 526.5 314.8 526.7 314.5 527.0 314.2 527.3 313.8 527.5 313.5 527.8 313.2 528.1 312.9 528.4 312.6 528.6 312.2 528.9 311.9 529.2 311.6 529.5 311.3 529.8 311.0 530.1 310.8 530.4 310.5 530.7 310.2 531.0 309.9 531.3 309.6 531.7 309.3 532.0 309.1 532.3 308.8 532.6 308.5 533.0 308.3 533.3 308.0 533.6 307.7 534.0 307.5 534.3 307.2 534.7 307.0 535.0 306.7 535.4 306.5 535.8 306.2 536.1 306.0 536.5 305.8 536.9 305.5 537.2 305.3 537.6 305.1 538.0 304.8 538.4 304.6 538.8 304.4 539.2 304.1 539.6 303.9 540.0 303.7 540.4 303.4 540.8 303.2 541.2 303.0 541.6 302.8 542.1 302.6 542.5 302.3 542.9 302.1 543.4 301.9 543.8 301.7 544.2 301.4 544.7 301.2 545.1 301.0 545.6 300.7 546.1 300.5 546.5 300.2 547.0 299.9 547.5 299.6 548.0 299.4 548.5 299.1 548.9 298.9 549.4 298.6 549.9 298.4 550.4 298.2 550.9 298.0 551.5 297.7 552.0 297.5 552.5 297.3 553.0 297.1 553.6 296.9 554.1 296.7 554.6 296.5 555.2 296.3 555.7 296.1 556.3 295.9 556.8 295.6 557.4 295.4 558.0 295.2 558.6 295.0 559.1 294.8 559.7 294.6 560.3 294.4 560.9 294.2 561.5 294.0 562.1 293.8 562.7 293.6 563.3 293.4 564.0 293.2 564.6 293.0 565.2 292.8 565.9 292.6 566.5 292.4 567.2 292.1 567.8 291.9 568.5 291.7 569.1 291.5 569.8 291.3 570.5 291.1 571.1 290.9 571.8 290.7 572.5 290.5 573.2 290.3 573.9 290.1 574.6 289.9 575.3 289.7 576.1 289.5 576.8 289.3 577.5 289.1 578.3 288.9 579.0 288.7 579.7 288.5 580.5 288.3 581.3 288.1 582.0 287.9 582.8 287.8 583.6 287.6 584.4 287.4 585.1 287.2 585.9 287.0 586.7 286.8 587.5 286.6 588.4 286.4 589.2 286.2 590.0 286.0 590.8 285.8 591.7 285.6 592.5 285.4 593.4 285.3 594.2 285.1 595.1 284.9 595.9 284.7 596.8 284.5 597.7 284.3 598.6 284.1 599.5 284.0 600.4 283.8 601.3 283.6 602.2 283.4 603.1 283.2 604.0 283.0 605.0 282.9 605.9 282.7 606.9 282.5 607.8 282.3 608.8 282.2 609.7 282.0 610.7 281.8 611.7 281.6 612.7 281.5 613.7 281.3 614.6 281.1 615.7 280.9 616.7 280.8 617.7 280.6 618.7 280.4" stroke="#00ff00" stroke-width="5.8"/>
<path d="M618.7 280.4L619.7 280.3 620.8 280.1 621.8 279.9 622.9 279.7 623.9 279.6 625.0 279.4 626.1 279.2 627.2 279.1 628.2 278.9 629.3 278.8 630.4 278.6 631.6 278.4 632.7 278.3 633.8 278.1 634.9 278.0 636.1 277.8 637.2 277.6 638.4 277.5 639.5 277.3 640.7 277.2 641.9 277.0 643.0 276.9 644.2 276.7 645.4 276.6 646.6 276.4 647.8 276.2 649.1 276.1 650.3 275.9 651.5 275.8 652.8 275.6 654.0 275.5 655.3 275.4 656.5 275.2 657.8 275.1 659.1 274.9 660.4 274.8 661.7 274.6 663.0 274.5 664.3 274.3 665.6 274.2" stroke="#00ff00" stroke-width="5.6"/>
<path d="M665.6 274.2L666.9 274.1 668.3 273.9 669.6 273.8 671.0 273.6 672.3 273.5 673.7 273.4 675.1 273.2 676.5 273.1 677.8 272.9 679.2 272.8 680.7 272.7 682.1 272.5 683.5 272.4 684.9 272.3 686.4 272.1 687.8 272.0 689.3 271.9 690.7 271.7 692.2 271.6 693.7 271.5 695.2 271.3 696.7 271.2 698.2 271.1 699.7 271.0 701.2 270.8 702.7 270.7 704.3 270.6 705.8 270.5 707.4 270.3 709.0 270.2 710.5 270.1 712.1 270.0 713.7 269.8 715.3 269.7 716.9 269.6 718.5 269.5 720.2 269.3 721.8 269.2 723.4 269.1 725.1 269.0 726.8 268.9 728.4 268.7 730.1 268.6 731.8 268.5 733.5 268.4 735.2 268.3 736.9 268.2 738.6 268.0 740.4 267.9 742.1 267.8 743.9 267.7 745.6 267.6 747.4 267.5 749.2 267.4 751.0 267.2 752.8 267.1 754.6 267.0 756.4 266.9 758.2 266.8 760.0 266.7 761.9 266.6 763.7 266.5 765.6 266.4 767.5 266.3 769.3 266.2 771.2 266.0 773.1 265.9 775.0 265.8 777.0 265.7 778.9 265.6 780.8 265.5 782.8 265.4 784.7 265.3 786.7 265.2 788.7 265.1 790.7 265.0 792.7 264.9 794.7 264.8 796.7 264.7 798.7 264.6 800.7 264.5 802.8 264.4 804.8 264.3 806.9 264.2 809.0 264.1 811.1 264.0 813.2 263.9 815.3 263.8 817.4 263.7 819.5 263.6 821.7 263.5 823.8 263.4 826.0 263.3 828.1 263.2 830.3 263.1 832.5 263.0 834.7 262.9 836.9 262.8 839.1 262.7 841.3 262.6 843.6 262.5 845.8 262.4 848.1 262.4 850.3 262.3 852.6 262.2 854.9 262.1 857.2 262.0 859.5 261.9 861.8 261.8 864.2 261.7 866.5 261.6 868.9 261.5 871.2 261.4 873.6 261.4 876.0 261.3 878.4 261.2 880.8 261.1 883.2 261.0 885.6 260.9 888.1 260.8 890.5 260.7 893.0 260.7 895.4 260.6 897.9 260.5 900.4 260.4 902.9 260.3 905.4 260.2 908.0 260.1 910.5 260.1 913.0 260.0 915.6 259.9" stroke="#00ff00" stroke-width="5.4"/>
<path d="M104.0 460.7L106.6 460.6 109.1 460.5 111.6 460.5 114.2 460.4 116.7 460.3 119.2 460.2 121.7 460.1 124.2 460.0 126.6 459.9 129.1 459.9 131.5 459.8 134.0 459.7 136.4 459.6 138.8 459.5 141.2 459.4 143.6 459.3 146.0 459.2 148.4 459.2 150.7 459.1 153.1 459.0 155.4 458.9 157.8 458.8 160.1 458.7 162.4 458.6 164.7 458.5 167.0 458.4 169.3 458.3 171.5 458.2 173.8 458.1 176.0 458.0 178.3 458.0 180.5 457.9 182.7 457.8 184.9 457.7 187.1 457.6 189.3 457.5 191.5 457.4 193.6 457.3 195.8 457.2 197.9 457.1 200.1 457.0 202.2 456.9 204.3 456.8 206.4 456.7 208.5 456.6 210.6 456.5 212.7 456.4 214.8 456.3 216.8 456.2 218.9 456.1 220.9 456.0 222.9 455.9 224.9 455.8 226.9 455.7 228.9 455.6 230.9 455.5 232.9 455.4 234.9 455.3 236.8 455.2 238.8 455.1 240.7 455.0 242.6 454.9 244.6 454.8 246.5 454.7 248.4 454.5 250.3 454.4 252.1 454.3 254.0 454.2 255.9 454.1 257.7 454.0 259.6 453.9 261.4 453.8 263.2 453.7 265.0 453.6 266.8 453.5 268.6 453.3 270.4 453.2 272.2 453.1 274.0 453.0 275.7 452.9 277.5 452.8 279.2 452.7 281.0 452.5 282.7 452.4 284.4 452.3 286.1 452.2 287.8 452.1 289.5 452.0 291.2 451.8 292.8 451.7 294.5 451.6 296.2 451.5 297.8 451.4 299.4 451.3 301.1 451.1 302.7 451.0 304.3 450.9 305.9 450.8 307.5 450.6 309.1 450.5 310.6 450.4 312.2 450.3 313.8 450.1 315.3 450.0 316.9 449.9 318.4 449.8 319.9 449.6 321.4 449.5 322.9 449.4 324.4 449.3 325.9 449.1 327.4 449.0 328.9 448.9 330.3 448.7 331.8 448.6 333.2 448.5 334.7 448.3 336.1 448.2 337.5 448.1 338.9 447.9 340.4 447.8 341.8 447.7 343.1 447.5 344.5 447.4 345.9 447.3 347.3 447.1 348.6 447.0 350.0 446.8 351.3 446.7 352.7 446.6 354.0 446.4 355.3 446.3 356.6 446.1 357.9 446.0 359.2 445.8 360.5 445.7 361.8 445.6 363.1 445.4 364.3 445.3 365.6 445.1 366.8 445.0 368.1 444.8 369.3 444.7 370.5 444.5 371.8 444.4 373.0 444.2 374.2 444.1 375.4 443.9 376.6 443.8 377.7 443.6 378.9 443.4 380.1 443.3 381.2 443.1 382.4 443.0 383.5 442.8 384.7 442.7 385.8 442.5 386.9 442.3 388.0 442.2 389.2 442.0 390.3 441.9 391.4 441.7 392.4 441.5 393.5 441.4 394.6 441.2 395.7 441.0 396.7 440.9 397.8 440.7 398.8 440.5 399.9 440.4 400.9 440.2 401.9 440.0 402.9 439.8 403.9 439.7 405.0 439.5 405.9 439.3 406.9 439.2 407.9 439.0 408.9 438.8 409.9 438.6 410.8 438.5 411.8 438.3 412.7 438.1 413.7 437.9 414.6 437.7 415.6 437.6 416.5 437.4 417.4 437.2 418.3 437.0 419.2 436.8 420.1 436.7 421.0 436.5 421.9 436.3 422.8 436.1 423.7 435.9 424.5 435.7 425.4 435.5 426.2 435.4 427.1 435.2 427.9 435.0 428.8 434.8 429.6 434.6 430.4 434.4 431.2 434.2 432.1 434.0 432.9 433.8 433.7 433.6 434.5 433.5 435.2 433.3 436.0 433.1 436.8 432.9 437.6 432.7 438.3 432.5 439.1 432.3 439.9 432.1 440.6 431.9 441.3 431.7 442.1 431.5 442.8 431.3 443.5 431.1 444.3 430.9 445.0 430.7 445.7 430.5 446.4 430.3 447.1 430.1 447.8 429.9 448.5 429.7 449.1 429.5 449.8 429.3 450.5 429.1 451.1 428.9 451.8 428.7 452.4 428.5 453.1 428.3 453.7 428.0 454.4 427.8 455.0 427.6 455.6 427.4 456.3 427.2 456.9 427.0 457.5 426.8 458.1 426.6 458.7 426.4 459.3 426.2 459.9 426.0 460.5 425.7 461.0 425.5 461.6 425.3 462.2 425.1 462.8 424.9 463.3 424.7 463.9 424.5 464.4 424.3 465.0 424.1 465.5 423.8 466.0 423.6 466.6 423.4 467.1 423.2 467.6 423.0 468.1 422.8 468.7 422.5 469.2 422.3 469.7 422.1 470.2 421.9 470.7 421.7 471.1 421.5 471.6 421.2 472.1 421.0 472.6 420.8" stroke="#00ff00" stroke-width="5.2"/>
<path d="M472.6 420.8L473.1 420.6 473.5 420.4 474.0 420.1 474.5 419.9 474.9 419.7 475.4 419.5 475.8 419.2 476.2 419.0 476.7 418.8 477.1 418.6 477.5 418.3 478.0 418.1 478.4 417.9 478.8 417.7 479.2 417.4 479.6 417.2 480.0 417.0 480.4 416.7 480.8 416.5 481.2 416.3 481.6 416.0 482.0 415.8 482.4 415.6 482.7 415.3 483.1 415.1 483.5 414.9 483.8 414.6 484.2 414.4 484.6 414.1 484.9 413.9 485.3 413.7 485.6 413.4 486.0 413.2 486.3 412.9 486.6 412.7 487.0 412.4 487.3 412.2" stroke="#00ff00" stroke-width="5.4"/>
<path d="M487.3 412.2L487.6 411.9 487.9 411.7 488.3 411.4 488.6 411.1 488.9 410.9 489.2 410.6 489.5 410.4 489.8 410.1 490.1 409.9 490.4 409.6 490.7 409.3 491.0 409.1 491.2 408.8 491.5 408.5 491.8 408.2 492.1 408.0 492.3 407.7 492.6 407.4 492.9 407.1 493.1 406.9 493.4 406.6 493.7 406.3 493.9 406.0 494.2 405.7 494.4 405.4 494.6 405.1 494.9 404.8 495.1 404.5 495.4 404.2 495.6 403.9 495.8 403.6 496.0 403.3 496.3 403.0 496.5 402.6 496.7 402.3 496.9 402.0 497.1 401.7 497.4 401.3 497.6 401.0 497.8 400.6 498.0 400.3 498.2 399.9 498.4 399.6 498.6 399.2 498.8 398.9 498.9 398.5 499.1 398.1 499.3 397.7 499.5 397.4 499.7 397.0 499.9 396.6 500.0 396.2 500.2 395.8 500.4 395.4 500.6 395.0 500.7 394.5 500.9 394.1 501.1 393.7 501.2 393.3 501.4 392.9 501.5 392.4 501.7 392.0 501.8 391.6 502.0 391.1 502.1 390.7 502.3 390.3 502.4 389.8 502.6 389.4 502.7 389.0 502.9 388.5 503.0 388.1 503.1 387.7 503.3 387.3 503.4 386.9 503.5 386.4 503.7 386.0 503.8 385.6 503.9 385.3 504.0 384.9 504.2 384.5 504.3 384.1 504.4 383.7 504.5 383.4 504.6 383.0 504.8 382.7 504.9 382.3 505.0 382.0 505.1 381.7 505.2 381.4 505.3 381.0 505.4 380.7 505.5 380.4 505.6 380.1 505.7 379.8 505.8 379.6 505.9 379.3 506.0 379.0 506.1 378.7 506.2 378.5 506.3 378.2 506.4 378.0 506.5 377.7 506.6 377.5 506.7 377.2 506.8 377.0 506.9 376.7 507.0 376.5 507.1 376.3 507.1 376.1 507.2 375.8 507.3 375.6 507.4 375.4 507.5 375.2 507.6 375.0 507.6 374.8 507.7 374.6 507.8 374.4 507.9 374.2 508.0 374.0 508.0 373.8 508.1 373.6 508.2 373.4 508.3 373.2 508.4 373.0 508.4 372.8 508.5 372.7 508.6 372.5 508.7 372.3 508.7 372.1 508.8 371.9 508.9 371.7 509.0 371.6 509.0 371.4 509.1 371.2 509.2 371.0 509.3 370.9 509.3 370.7" stroke="#00ff00" stroke-width="5.6"/>
<path d="M509.3 370.7L509.4 370.5 509.5 370.3 509.5 370.2 509.6 370.0 509.7 369.8 509.8 369.6 509.8 369.5 509.9 369.3 510.0 369.1 510.1 368.9 510.1 368.8 510.2 368.6 510.3 368.4 510.3 368.2 510.4 368.0 510.5 367.9 510.6 367.7 510.6 367.5 510.7 367.3 510.8 367.1 510.9 366.9 510.9 366.7 511.0 366.6 511.1 366.4 511.2 366.2 511.2 366.0 511.3 365.8 511.4 365.6 511.5 365.4 511.6 365.2 511.6 365.0 511.7 364.7 511.8 364.5 511.9 364.3 512.0 364.1 512.0 363.9 512.1 363.7 512.2 363.4 512.3 363.2 512.4 363.0 512.5 362.7 512.5 362.5 512.6 362.2 512.7 362.0 512.8 361.7 512.9 361.5 513.0 361.2 513.1 361.0 513.2 360.7 513.3 360.5 513.4 360.2 513.5 359.9 513.6 359.6 513.7 359.4 513.8 359.1 513.9 358.8 514.0 358.5 514.1 358.2 514.2 358.0 514.3 357.7 514.4 357.4 514.5 357.1 514.6 356.8 514.7 356.5 514.8 356.2 515.0 355.9 515.1 355.6 515.2 355.3 515.3 355.0 515.4 354.7 515.6 354.4 515.7 354.1 515.8 353.8 515.9 353.5 516.1 353.2 516.2 352.9 516.3 352.5 516.5 352.2 516.6 351.9 516.7 351.6 516.9 351.3 517.0 351.0 517.2 350.7 517.3 350.3 517.5 350.0 517.6 349.7 517.8 349.3 517.9 349.0 518.1 348.6 518.2 348.3 518.4 347.9 518.5 347.5 518.7 347.2 518.9 346.8 519.0 346.4 519.2 346.0 519.4 345.6 519.6 345.3 519.7 344.9 519.9 344.5 520.1 344.1 520.3 343.7 520.5 343.4 520.7 343.0 520.8 342.6 521.0 342.2 521.2 341.7 521.4 341.3 521.6 340.9 521.8 340.4 522.0 339.9 522.2 339.4 522.5 338.9 522.7 338.3 522.9 337.8 523.1 337.2 523.3 336.6 523.6 336.0 523.8 335.4 524.0 334.7 524.2 334.1 524.5 333.5 524.7 332.9 525.0 332.3 525.2 331.8 525.4 331.2 525.7 330.7 525.9 330.2 526.2 329.6 526.5 329.2 526.7 328.7 527.0 328.2 527.3 327.8 527.5 327.3 527.8 326.9 528.1 326.4 528.4 326.0 528.6 325.6 528.9 325.1 529.2 324.7 529.5 324.3 529.8 323.9 530.1 323.4 530.4 323.0 530.7 322.6 531.0 322.2 531.3 321.8 531.7 321.3 532.0 320.9 532.3 320.5 532.6 320.1 533.0 319.6 533.3 319.2 533.6 318.8 534.0 318.3 534.3 317.9 534.7 317.5 535.0 317.0 535.4 316.6 535.8 316.2 536.1 315.7 536.5 315.3 536.9 314.9 537.2 314.5 537.6 314.0 538.0 313.6 538.4 313.2 538.8 312.8 539.2 312.4 539.6 312.0 540.0 311.6 540.4 311.2 540.8 310.8 541.2 310.4 541.6 310.0 542.1 309.6 542.5 309.2 542.9 308.8 543.4 308.5 543.8 308.1 544.2 307.7 544.7 307.4 545.1 307.0 545.6 306.7 546.1 306.3 546.5 306.0 547.0 305.7 547.5 305.3 548.0 305.0 548.5 304.7 548.9 304.3 549.4 304.0 549.9 303.7 550.4 303.3 550.9 303.0 551.5 302.7 552.0 302.3 552.5 301.9 553.0 301.5 553.6 301.1 554.1 300.6 554.6 300.1 555.2 299.7 555.7 299.3 556.3 298.9 556.8 298.6 557.4 298.3 558.0 298.0 558.6 297.7 559.1 297.4 559.7 297.1 560.3 296.8 560.9 296.6 561.5 296.3 562.1 296.1 562.7 295.8 563.3 295.6 564.0 295.3 564.6 295.1 565.2 294.8 565.9 294.6 566.5 294.4 567.2 294.1 567.8 293.9 568.5 293.6 569.1 293.4 569.8 293.2 570.5 293.0 571.1 292.7 571.8 292.5 572.5 292.3 573.2 292.1 573.9 291.8 574.6 291.6 575.3 291.4 576.1 291.2 576.8 291.0 577.5 290.7 578.3 290.5 579.0 290.3 579.7 290.1 580.5 289.9 581.3 289.7 582.0 289.5 582.8 289.2 583.6 289.0 584.4 288.8 585.1 288.6 585.9 288.4 586.7 288.2 587.5 288.0 588.4 287.8 589.2 287.6 590.0 287.4 590.8 287.2 591.7 287.0 592.5 286.8 593.4 286.6 594.2 286.4 595.1 286.2 595.9 286.0 596.8 285.8 597.7 285.6 598.6 285.4 599.5 285.2 600.4 285.0 601.3 284.8 602.2 284.6 603.1 284.4 604.0 284.2 605.0 284.0 605.9 283.8 606.9 283.6 607.8 283.5 608.8 283.3 609.7 283.1 610.7 282.9 611.7 282.7 612.7 282.5 613.7 282.3 614.6 282.1 615.7 282.0 616.7 281.8 617.7 281.6 618.7 281.4 619.7 281.2" stroke="#00ff00" stroke-width="5.8"/>
<path d="M619.7 281.2L620.8 281.0 621.8 280.9 622.9 280.7 623.9 280.5 625.0 280.3 626.1 280.2 627.2 280.0 628.2 279.8 629.3 279.6 630.4 279.5 631.6 279.3 632.7 279.1 633.8 278.9 634.9 278.8 636.1 278.6 637.2 278.4 638.4 278.3 639.5 278.1 640.7 277.9 641.9 277.7 643.0 277.6 644.2 277.4 645.4 277.3 646.6 277.1 647.8 276.9 649.1 276.8 650.3 276.6 651.5 276.4 652.8 276.3 654.0 276.1 655.3 276.0 656.5 275.8 657.8 275.6 659.1 275.5 660.4 275.3 661.7 275.2 663.0 275.0 664.3 274.9 665.6 274.7" stroke="#00ff00" stroke-width="5.6"/>
<path d="M665.6 274.7L666.9 274.6 668.3 274.4 669.6 274.3 671.0 274.1 672.3 274.0 673.7 273.8 675.1 273.7 676.5 273.5 677.8 273.4 679.2 273.2 680.7 273.1 682.1 272.9 683.5 272.8 684.9 272.7 686.4 272.5 687.8 272.4 689.3 272.2 690.7 272.1 692.2 272.0 693.7 271.8 695.2 271.7 696.7 271.5 698.2 271.4 699.7 271.3 701.2 271.1 702.7 271.0 704.3 270.9 705.8 270.7 707.4 270.6 709.0 270.5 710.5 270.3 712.1 270.2 713.7 270.1 715.3 269.9 716.9 269.8 718.5 269.7 720.2 269.6 721.8 269.4 723.4 269.3 725.1 269.2 726.8 269.1 728.4 268.9 730.1 268.8 731.8 268.7 733.5 268.6 735.2 268.4 736.9 268.3 738.6 268.2 740.4 268.1 742.1 268.0 743.9 267.8 745.6 267.7 747.4 267.6 749.2 267.5 751.0 267.4 752.8 267.3 754.6 267.1 756.4 267.0 758.2 266.9 760.0 266.8 761.9 266.7 763.7 266.6 765.6 266.5 767.5 266.4 769.3 266.2 771.2 266.1 773.1 266.0 775.0 265.9 777.0 265.8 778.9 265.7 780.8 265.6 782.8 265.5 784.7 265.4 786.7 265.3 788.7 265.2 790.7 265.0 792.7 264.9 794.7 264.8 796.7 264.7 798.7 264.6 800.7 264.5 802.8 264.4 804.8 264.3 806.9 264.2 809.0 264.1 811.1 264.0 813.2 263.9 815.3 263.8 817.4 263.7 819.5 263.6 821.7 263.5 823.8 263.4 826.0 263.3 828.1 263.2 830.3 263.1 832.5 263.0 834.7 262.9 836.9 262.8 839.1 262.7 841.3 262.6 843.6 262.5 845.8 262.5 848.1 262.4 850.3 262.3 852.6 262.2 854.9 262.1 857.2 262.0 859.5 261.9 861.8 261.8 864.2 261.7 866.5 261.6 868.9 261.5 871.2 261.4 873.6 261.3 876.0 261.3 878.4 261.2 880.8 261.1 883.2 261.0 885.6 260.9 888.1 260.8 890.5 260.7 893.0 260.6 895.4 260.5 897.9 260.5 900.4 260.4 902.9 260.3 905.4 260.2 908.0 260.1 910.5 260.0 913.0 259.9 915.6 259.9" stroke="#00ff00" stroke-width="5.4"/>
<path d="M509.8 360.3L510.5 358.8 511.2 357.2 511.8 355.7 512.4 354.1 513.1 352.6 513.7 351.0 514.3 349.5 514.9 347.9 515.4 346.4 516.0 344.9 516.6 343.4 517.2 341.8 517.8 340.3 518.4 338.9 519.0 337.6 519.5 336.2 520.1 334.8 520.7 333.5 521.4 332.2 522.0 330.8 522.7 329.4 523.5 328.0 524.2 326.7 525.0 325.3 525.8 324.0 526.6 322.7 527.5 321.4 528.3 320.2 529.2 319.0 530.1 317.8 531.1 316.6 532.0 315.4 533.0 314.3 534.1 313.2 535.1 312.1 536.2 311.0 537.3 310.0 538.5 309.0 539.6 308.0 540.8 307.1 541.8 306.2 542.9 305.4 544.0 304.6 545.1 303.8 546.3 303.1 547.4 302.4 548.6 301.6 549.8 300.9 551.1 300.2 552.3 299.5 553.6 298.8 554.9 298.2 556.1 297.6 557.4 297.0 558.6 296.5 559.9 295.9 561.1 295.4 562.4 294.9 563.6 294.4 565.2 293.8 566.8 293.3 568.5 292.7 570.2 292.1 571.8 291.6 573.5 291.1 575.3 290.6 577.6 290.0 579.9 289.4 582.2 288.8 584.5 288.2 586.8 287.7 589.1 287.1 591.9 286.5 594.9 285.9 598.0 285.2 601.0 284.6 604.0 284.0 607.0 283.3 610.0 282.7" stroke="#00ff00" stroke-width="5.8"/>
<path d="M104.0 518.8L106.6 518.7 109.1 518.7 111.6 518.6 114.2 518.5 116.7 518.5 119.2 518.4 121.7 518.3 124.2 518.2 126.6 518.2 129.1 518.1 131.5 518.0 134.0 518.0 136.4 517.9 138.8 517.8 141.2 517.7 143.6 517.7 146.0 517.6 148.4 517.5 150.7 517.4 153.1 517.4 155.4 517.3 157.8 517.2 160.1 517.1 162.4 517.0 164.7 517.0 167.0 516.9 169.3 516.8 171.5 516.7 173.8 516.6 176.0 516.6 178.3 516.5 180.5 516.4 182.7 516.3 184.9 516.2 187.1 516.1 189.3 516.0 191.5 515.9 193.6 515.9 195.8 515.8 197.9 515.7 200.1 515.6 202.2 515.5 204.3 515.4 206.4 515.3 208.5 515.2 210.6 515.1 212.7 515.0 214.8 514.9 216.8 514.8 218.9 514.7 220.9 514.6 222.9 514.5 224.9 514.4 226.9 514.3 228.9 514.2 230.9 514.1 232.9 514.0 234.9 513.9 236.8 513.8 238.8 513.7 240.7 513.6 242.6 513.5 244.6 513.4 246.5 513.3 248.4 513.2 250.3 513.0 252.1 512.9 254.0 512.8 255.9 512.7 257.7 512.6 259.6 512.5 261.4 512.4 263.2 512.2 265.0 512.1 266.8 512.0 268.6 511.9 270.4 511.8 272.2 511.6 274.0 511.5 275.7 511.4 277.5 511.3 279.2 511.1 281.0 511.0 282.7 510.9 284.4 510.7 286.1 510.6 287.8 510.5 289.5 510.3 291.2 510.2 292.8 510.1 294.5 509.9 296.2 509.8 297.8 509.7 299.4 509.5 301.1 509.4 302.7 509.2 304.3 509.1 305.9 509.0 307.5 508.8 309.1 508.7 310.6 508.5 312.2 508.4 313.8 508.2 315.3 508.1 316.9 507.9 318.4 507.8 319.9 507.6 321.4 507.4 322.9 507.3 324.4 507.1 325.9 507.0 327.4 506.8 328.9 506.6 330.3 506.5 331.8 506.3 333.2 506.2 334.7 506.0 336.1 505.8 337.5 505.6 338.9 505.5 340.4 505.3 341.8 505.1 343.1 505.0 344.5 504.8 345.9 504.6 347.3 504.4 348.6 504.2 350.0 504.1 351.3 503.9 352.7 503.7 354.0 503.5 355.3 503.3 356.6 503.1 357.9 502.9 359.2 502.7 360.5 502.6 361.8 502.4 363.1 502.2 364.3 502.0 365.6 501.8 366.8 501.6 368.1 501.4 369.3 501.2 370.5 501.0 371.8 500.8 373.0 500.6 374.2 500.3 375.4 500.1 376.6 499.9 377.7 499.7 378.9 499.5 380.1 499.3 381.2 499.1 382.4 498.9 383.5 498.6 384.7 498.4 385.8 498.2 386.9 498.0 388.0 497.7 389.2 497.5 390.3 497.3 391.4 497.1 392.4 496.8 393.5 496.6 394.6 496.4 395.7 496.1 396.7 495.9 397.8 495.7 398.8 495.4 399.9 495.2 400.9 494.9 401.9 494.7 402.9 494.5 403.9 494.2 405.0 494.0 405.9 493.7 406.9 493.5 407.9 493.2 408.9 493.0 409.9 492.7 410.8 492.5 411.8 492.2 412.7 491.9 413.7 491.7 414.6 491.4 415.6 491.2 416.5 490.9 417.4 490.6 418.3 490.4 419.2 490.1 420.1 489.8 421.0 489.5 421.9 489.3 422.8 489.0 423.7 488.7 424.5 488.4 425.4 488.2 426.2 487.9 427.1 487.6 427.9 487.3 428.8 487.0 429.6 486.7 430.4 486.5 431.2 486.2 432.1 485.9 432.9 485.6 433.7 485.3 434.5 485.0 435.2 484.7 436.0 484.4 436.8 484.1 437.6 483.8 438.3 483.5 439.1 483.1 439.9 482.8 440.6 482.5 441.3 482.2 442.1 481.9 442.8 481.5 443.5 481.2 444.3 480.9 445.0 480.6 445.7 480.2 446.4 479.9 447.1 479.5 447.8 479.2 448.5 478.8 449.1 478.5 449.8 478.1 450.5 477.7 451.1 477.4 451.8 477.0 452.4 476.6 453.1 476.2 453.7 475.8 454.4 475.4 455.0 475.0 455.6 474.6 456.3 474.1 456.9 473.7 457.5 473.2 458.1 472.8 458.7 472.3 459.3 471.8 459.9 471.3 460.5 470.8 461.0 470.2 461.6 469.7 462.2 469.1 462.8 468.5 463.3 467.8 463.9 467.2 464.4 466.5 465.0 465.8 465.5 465.0 466.0 464.3 466.6 463.4 467.1 462.6 467.6 461.7 468.1 460.7 468.7 459.7 469.2 458.7 469.7 457.6 470.2 456.5 470.7 455.3 471.1 454.1 471.6 452.9 472.1 451.7 472.6 450.5 473.1 449.2 473.5 448.0 474.0 446.8 474.5 445.6 474.9 444.5 475.4 443.3 475.8 442.2 476.2 441.1 476.7 440.1 477.1 439.0 477.5 438.0 478.0 437.0 478.4 436.1 478.8 435.1 479.2 434.1 479.6 433.1 480.0 432.1 480.4 431.0 480.8 429.9 481.2 428.7 481.6 427.5 482.0 426.1 482.4 424.7" stroke="#0000ff" stroke-width="5.2"/>
<path d="M482.4 424.7L482.7 423.2 483.1 421.7 483.5 420.2 483.8 418.7 484.2 417.3 484.6 415.8 484.9 414.4 485.3 413.0 485.6 411.5" stroke="#0000ff" stroke-width="5.4"/>
<path d="M485.6 411.5L486.0 409.9 486.3 408.2 486.6 406.3 487.0 404.3 487.3 402.2 487.6 399.8 487.9 397.4 488.3 395.0 488.6 392.7 488.9 390.5 489.2 388.5 489.5 386.6 489.8 384.8 490.1 383.0 490.4 381.3 490.7 379.6 491.0 377.8 491.2 375.9 491.5 374.0 491.8 371.9 492.1 369.6" stroke="#0000ff" stroke-width="5.6"/>
<path d="M492.1 369.6L492.3 367.2 492.6 364.5 492.9 361.8 493.1 359.0 493.4 356.3 493.7 353.8 493.9 351.5 494.2 349.4 494.4 347.5 494.6 345.7 494.9 344.1 495.1 342.6 495.4 341.1 495.6 339.7 495.8 338.4 496.0 337.0 496.3 335.7 496.5 334.4 496.7 333.1 496.9 331.7 497.1 330.4 497.4 329.0 497.6 327.6 497.8 326.3 498.0 324.9 498.2 323.5 498.4 322.2 498.6 320.9 498.8 319.7 498.9 318.4 499.1 317.3 499.3 316.1 499.5 315.1 499.7 314.0 499.9 313.0 500.0 312.0 500.2 311.1 500.4 310.2 500.6 309.3 500.7 308.4 500.9 307.6 501.1 306.8 501.2 306.0 501.4 305.2 501.5 304.4 501.7 303.6 501.8 302.8 502.0 302.1 502.1 301.4 502.3 300.6 502.4 299.9 502.6 299.2 502.7 298.5 502.9 297.8 503.0 297.2 503.1 296.5 503.3 295.9 503.4 295.2 503.5 294.6 503.7 294.0 503.8 293.4 503.9 292.9 504.0 292.3 504.2 291.8 504.3 291.2 504.4 290.7 504.5 290.2 504.6 289.8 504.8 289.3 504.9 288.9 505.0 288.4 505.1 288.0 505.2 287.6 505.3 287.2 505.4 286.8 505.5 286.5 505.6 286.1 505.7 285.7 505.8 285.4 505.9 285.1 506.0 284.8 506.1 284.5 506.2 284.2 506.3 283.9 506.4 283.6 506.5 283.3 506.6 283.1 506.7 282.8 506.8 282.5 506.9 282.3 507.0 282.1 507.1 281.8 507.1 281.6 507.2 281.4 507.3 281.2 507.4 281.0 507.5 280.8 507.6 280.6 507.6 280.4 507.7 280.2 507.8 280.0 507.9 279.8 508.0 279.6 508.0 279.4 508.1 279.3 508.2 279.1 508.3 278.9 508.4 278.8 508.4 278.6 508.5 278.4 508.6 278.3 508.7 278.1 508.7 278.0 508.8 277.8 508.9 277.7 509.0 277.5 509.0 277.4 509.1 277.2 509.2 277.1 509.3 277.0 509.3 276.8 509.4 276.7 509.5 276.6 509.5 276.4 509.6 276.3 509.7 276.2 509.8 276.0 509.8 275.9 509.9 275.8 510.0 275.7 510.1 275.5 510.1 275.4 510.2 275.3 510.3 275.1 510.3 275.0 510.4 274.9 510.5 274.8 510.6 274.7 510.6 274.5 510.7 274.4 510.8 274.3 510.9 274.2 510.9 274.0 511.0 273.9 511.1 273.8 511.2 273.7 511.2 273.5 511.3 273.4 511.4 273.3 511.5 273.2 511.6 273.0 511.6 272.9 511.7 272.8 511.8 272.7 511.9 272.5 512.0 272.4 512.0 272.3 512.1 272.1 512.2 272.0 512.3 271.9 512.4 271.7 512.5 271.6 512.5 271.5 512.6 271.3 512.7 271.2 512.8 271.1 512.9 270.9 513.0 270.8 513.1 270.6 513.2 270.5 513.3 270.4 513.4 270.2 513.5 270.1 513.6 269.9 513.7 269.8 513.8 269.6 513.9 269.5 514.0 269.3 514.1 269.2 514.2 269.0 514.3 268.9 514.4 268.7 514.5 268.6 514.6 268.5 514.7 268.3 514.8 268.2 515.0 268.0 515.1 267.9 515.2 267.7 515.3 267.6 515.4 267.4 515.6 267.3 515.7 267.1 515.8 267.0 515.9 266.8 516.1 266.7 516.2 266.5 516.3 266.4 516.5 266.3 516.6 266.1 516.7 266.0 516.9 265.8 517.0 265.7 517.2 265.5 517.3 265.4 517.5 265.2 517.6 265.1 517.8 265.0 517.9 264.8 518.1 264.7 518.2 264.5 518.4 264.4 518.5 264.2 518.7 264.1 518.9 264.0 519.0 263.8 519.2 263.7 519.4 263.5 519.6 263.4 519.7 263.2 519.9 263.1 520.1 262.9 520.3 262.8 520.5 262.7 520.7 262.5 520.8 262.4 521.0 262.2 521.2 262.1 521.4 261.9 521.6 261.8 521.8 261.6 522.0 261.5 522.2 261.3 522.5 261.2 522.7 261.0 522.9 260.9 523.1 260.7 523.3 260.6 523.6 260.4 523.8 260.3 524.0 260.1 524.2 260.0 524.5 259.8 524.7 259.7 525.0 259.5 525.2 259.4 525.4 259.2 525.7 259.0 525.9 258.9 526.2 258.7 526.5 258.6 526.7 258.4 527.0 258.2 527.3 258.1 527.5 257.9 527.8 257.8 528.1 257.6 528.4 257.4 528.6 257.3 528.9 257.1 529.2 256.9 529.5 256.8 529.8 256.6 530.1 256.4 530.4 256.3 530.7 256.1 531.0 255.9 531.3 255.8 531.7 255.6 532.0 255.4 532.3 255.2 532.6 255.1 533.0 254.9 533.3 254.7 533.6 254.5 534.0 254.4 534.3 254.2 534.7 254.0 535.0 253.8 535.4 253.6 535.8 253.5 536.1 253.3 536.5 253.1 536.9 252.9 537.2 252.7 537.6 252.5 538.0 252.3 538.4 252.1 538.8 252.0 539.2 251.8 539.6 251.6 540.0 251.4 540.4 251.2 540.8 251.0 541.2 250.8 541.6 250.6 542.1 250.4 542.5 250.2 542.9 250.0 543.4 249.8 543.8 249.6 544.2 249.4 544.7 249.2 545.1 249.0 545.6 248.8 546.1 248.6 546.5 248.4 547.0 248.2 547.5 248.0 548.0 247.8 548.5 247.5 548.9 247.3 549.4 247.1 549.9 246.9 550.4 246.7 550.9 246.5 551.5 246.3 552.0 246.0 552.5 245.8 553.0 245.6 553.6 245.4 554.1 245.2 554.6 244.9 555.2 244.7 555.7 244.5 556.3 244.3 556.8 244.1 557.4 243.8 558.0 243.6 558.6 243.4 559.1 243.1 559.7 242.9 560.3 242.7 560.9 242.5 561.5 242.2 562.1 242.0 562.7 241.8 563.3 241.5 564.0 241.3 564.6 241.1 565.2 240.8 565.9 240.6 566.5 240.4 567.2 240.1 567.8 239.9 568.5 239.7 569.1 239.4 569.8 239.2" stroke="#0000ff" stroke-width="5.8"/>
<path d="M569.8 239.2L570.5 238.9 571.1 238.7 571.8 238.5 572.5 238.2 573.2 238.0 573.9 237.8 574.6 237.5 575.3 237.3 576.1 237.0 576.8 236.8 577.5 236.5 578.3 236.3 579.0 236.1 579.7 235.8 580.5 235.6 581.3 235.3 582.0 235.1 582.8 234.9 583.6 234.6 584.4 234.4 585.1 234.1 585.9 233.9 586.7 233.6 587.5 233.4 588.4 233.2 589.2 232.9 590.0 232.7 590.8 232.4 591.7 232.2 592.5 231.9 593.4 231.7 594.2 231.5 595.1 231.2 595.9 231.0 596.8 230.7 597.7 230.5 598.6 230.3 599.5 230.0 600.4 229.8 601.3 229.5 602.2 229.3 603.1 229.1 604.0 228.8 605.0 228.6 605.9 228.4 606.9 228.1 607.8 227.9 608.8 227.7 609.7 227.4 610.7 227.2 611.7 227.0 612.7 226.7 613.7 226.5 614.6 226.3 615.7 226.0 616.7 225.8 617.7 225.6 618.7 225.4 619.7 225.1 620.8 224.9 621.8 224.7 622.9 224.5 623.9 224.2" stroke="#0000ff" stroke-width="5.6"/>
<path d="M623.9 224.2L625.0 224.0 626.1 223.8 627.2 223.6 628.2 223.4 629.3 223.1 630.4 222.9 631.6 222.7 632.7 222.5 633.8 222.3 634.9 222.1 636.1 221.9 637.2 221.7 638.4 221.4 639.5 221.2 640.7 221.0 641.9 220.8 643.0 220.6 644.2 220.4 645.4 220.2 646.6 220.0 647.8 219.8 649.1 219.6 650.3 219.4 651.5 219.2 652.8 219.0 654.0 218.8 655.3 218.6 656.5 218.4 657.8 218.2 659.1 218.1 660.4 217.9 661.7 217.7 663.0 217.5 664.3 217.3 665.6 217.1 666.9 216.9 668.3 216.8 669.6 216.6 671.0 216.4 672.3 216.2 673.7 216.0 675.1 215.9 676.5 215.7 677.8 215.5 679.2 215.3 680.7 215.2 682.1 215.0 683.5 214.8 684.9 214.7 686.4 214.5 687.8 214.3 689.3 214.2 690.7 214.0 692.2 213.8 693.7 213.7 695.2 213.5 696.7 213.4 698.2 213.2 699.7 213.1 701.2 212.9 702.7 212.7 704.3 212.6 705.8 212.4 707.4 212.3 709.0 212.1 710.5 212.0 712.1 211.8 713.7 211.7 715.3 211.6 716.9 211.4 718.5 211.3 720.2 211.1 721.8 211.0 723.4 210.8 725.1 210.7 726.8 210.6 728.4 210.4 730.1 210.3 731.8 210.2 733.5 210.0 735.2 209.9 736.9 209.8 738.6 209.6 740.4 209.5 742.1 209.4 743.9 209.3 745.6 209.1 747.4 209.0 749.2 208.9 751.0 208.8 752.8 208.6 754.6 208.5 756.4 208.4 758.2 208.3 760.0 208.2 761.9 208.0 763.7 207.9 765.6 207.8 767.5 207.7 769.3 207.6 771.2 207.5 773.1 207.4 775.0 207.2 777.0 207.1 778.9 207.0 780.8 206.9 782.8 206.8 784.7 206.7 786.7 206.6 788.7 206.5 790.7 206.4 792.7 206.3 794.7 206.2 796.7 206.1 798.7 206.0 800.7 205.9 802.8 205.8 804.8 205.7 806.9 205.6 809.0 205.5 811.1 205.4 813.2 205.3 815.3 205.2 817.4 205.1 819.5 205.0 821.7 204.9 823.8 204.8 826.0 204.7 828.1 204.7 830.3 204.6 832.5 204.5 834.7 204.4 836.9 204.3 839.1 204.2 841.3 204.1 843.6 204.0 845.8 204.0 848.1 203.9 850.3 203.8 852.6 203.7 854.9 203.6 857.2 203.5 859.5 203.5 861.8 203.4 864.2 203.3 866.5 203.2 868.9 203.1 871.2 203.1 873.6 203.0 876.0 202.9 878.4 202.8 880.8 202.8 883.2 202.7 885.6 202.6 888.1 202.5 890.5 202.5 893.0 202.4 895.4 202.3 897.9 202.3 900.4 202.2 902.9 202.1 905.4 202.0 908.0 202.0 910.5 201.9 913.0 201.8 915.6 201.8" stroke="#0000ff" stroke-width="5.4"/>
<path d="M104.0 518.8L106.6 518.8 109.1 518.7 111.6 518.6 114.2 518.6 116.7 518.5 119.2 518.4 121.7 518.3 124.2 518.3 126.6 518.2 129.1 518.1 131.5 518.0 134.0 518.0 136.4 517.9 138.8 517.8 141.2 517.7 143.6 517.7 146.0 517.6 148.4 517.5 150.7 517.4 153.1 517.4 155.4 517.3 157.8 517.2 160.1 517.1 162.4 517.0 164.7 517.0 167.0 516.9 169.3 516.8 171.5 516.7 173.8 516.6 176.0 516.5 178.3 516.4 180.5 516.4 182.7 516.3 184.9 516.2 187.1 516.1 189.3 516.0 191.5 515.9 193.6 515.8 195.8 515.7 197.9 515.6 200.1 515.5 202.2 515.4 204.3 515.4 206.4 515.3 208.5 515.2 210.6 515.1 212.7 515.0 214.8 514.9 216.8 514.8 218.9 514.7 220.9 514.6 222.9 514.5 224.9 514.4 226.9 514.3 228.9 514.2 230.9 514.0 232.9 513.9 234.9 513.8 236.8 513.7 238.8 513.6 240.7 513.5 242.6 513.4 244.6 513.3 246.5 513.2 248.4 513.1 250.3 512.9 252.1 512.8 254.0 512.7 255.9 512.6 257.7 512.5 259.6 512.4 261.4 512.3 263.2 512.1 265.0 512.0 266.8 511.9 268.6 511.8 270.4 511.6 272.2 511.5 274.0 511.4 275.7 511.3 277.5 511.1 279.2 511.0 281.0 510.9 282.7 510.8 284.4 510.6 286.1 510.5 287.8 510.4 289.5 510.2 291.2 510.1 292.8 509.9 294.5 509.8 296.2 509.7 297.8 509.5 299.4 509.4 301.1 509.3 302.7 509.1 304.3 509.0 305.9 508.8 307.5 508.7 309.1 508.5 310.6 508.4 312.2 508.2 313.8 508.1 315.3 507.9 316.9 507.8 318.4 507.6 319.9 507.5 321.4 507.3 322.9 507.2 324.4 507.0 325.9 506.8 327.4 506.7 328.9 506.5 330.3 506.4 331.8 506.2 333.2 506.0 334.7 505.9 336.1 505.7 337.5 505.5 338.9 505.4 340.4 505.2 341.8 505.0 343.1 504.9 344.5 504.7 345.9 504.5 347.3 504.3 348.6 504.2 350.0 504.0 351.3 503.8 352.7 503.6 354.0 503.4 355.3 503.3 356.6 503.1 357.9 502.9 359.2 502.7 360.5 502.5 361.8 502.3 363.1 502.1 364.3 501.9 365.6 501.8 366.8 501.6 368.1 501.4 369.3 501.2 370.5 501.0 371.8 500.8 373.0 500.6 374.2 500.4 375.4 500.2 376.6 500.0 377.7 499.8 378.9 499.6 380.1 499.4 381.2 499.2 382.4 499.0 383.5 498.7 384.7 498.5 385.8 498.3 386.9 498.1 388.0 497.9 389.2 497.7 390.3 497.5 391.4 497.3 392.4 497.1 393.5 496.8 394.6 496.6 395.7 496.4 396.7 496.2 397.8 496.0 398.8 495.7 399.9 495.5 400.9 495.3 401.9 495.1 402.9 494.8 403.9 494.6 405.0 494.4 405.9 494.2 406.9 493.9 407.9 493.7 408.9 493.5 409.9 493.3 410.8 493.0 411.8 492.8 412.7 492.6 413.7 492.3 414.6 492.1 415.6 491.9 416.5 491.6 417.4 491.4 418.3 491.2 419.2 490.9 420.1 490.7 421.0 490.5 421.9 490.2 422.8 490.0 423.7 489.7 424.5 489.5 425.4 489.3 426.2 489.0 427.1 488.8 427.9 488.5 428.8 488.3 429.6 488.1 430.4 487.8 431.2 487.6 432.1 487.3 432.9 487.1 433.7 486.9 434.5 486.6 435.2 486.4 436.0 486.1 436.8 485.9 437.6 485.6 438.3 485.4 439.1 485.2 439.9 484.9 440.6 484.7 441.3 484.4 442.1 484.2 442.8 483.9 443.5 483.7 444.3 483.5 445.0 483.2 445.7 483.0 446.4 482.7 447.1 482.5 447.8 482.3 448.5 482.0 449.1 481.8 449.8 481.5 450.5 481.3 451.1 481.1 451.8 480.8 452.4 480.6 453.1 480.3 453.7 480.1 454.4 479.9 455.0 479.6 455.6 479.4 456.3 479.2 456.9 478.9 457.5 478.7 458.1 478.5 458.7 478.2 459.3 478.0 459.9 477.8 460.5 477.5 461.0 477.3 461.6 477.1 462.2 476.8 462.8 476.6 463.3 476.4 463.9 476.2 464.4 475.9 465.0 475.7 465.5 475.5 466.0 475.3 466.6 475.0 467.1 474.8 467.6 474.6 468.1 474.4 468.7 474.1 469.2 473.9 469.7 473.7 470.2 473.5 470.7 473.3 471.1 473.1 471.6 472.8 472.1 472.6 472.6 472.4 473.1 472.2 473.5 472.0 474.0 471.8 474.5 471.6 474.9 471.4 475.4 471.2 475.8 471.0 476.2 470.8 476.7 470.5 477.1 470.3 477.5 470.1 478.0 469.9 478.4 469.7 478.8 469.5 479.2 469.3 479.6 469.1 480.0 468.9 480.4 468.8 480.8 468.6 481.2 468.4 481.6 468.2 482.0 468.0 482.4 467.8 482.7 467.6 483.1 467.4 483.5 467.2 483.8 467.0 484.2 466.9 484.6 466.7 484.9 466.5 485.3 466.3 485.6 466.1 486.0 465.9 486.3 465.8 486.6 465.6 487.0 465.4 487.3 465.2 487.6 465.1 487.9 464.9 488.3 464.7 488.6 464.5 488.9 464.4 489.2 464.2 489.5 464.0 489.8 463.9 490.1 463.7 490.4 463.5 490.7 463.4 491.0 463.2 491.2 463.0 491.5 462.9 491.8 462.7 492.1 462.6 492.3 462.4 492.6 462.2 492.9 462.1 493.1 461.9 493.4 461.8 493.7 461.6 493.9 461.4 494.2 461.3 494.4 461.1 494.6 461.0 494.9 460.8 495.1 460.7 495.4 460.5 495.6 460.4 495.8 460.2 496.0 460.1 496.3 459.9 496.5 459.8 496.7 459.6 496.9 459.5 497.1 459.3 497.4 459.2 497.6 459.1 497.8 458.9 498.0 458.8 498.2 458.6 498.4 458.5 498.6 458.3 498.8 458.2 498.9 458.1 499.1 457.9 499.3 457.8 499.5 457.6 499.7 457.5 499.9 457.4 500.0 457.2 500.2 457.1 500.4 456.9 500.6 456.8 500.7 456.7 500.9 456.5 501.1 456.4 501.2 456.3 501.4 456.1 501.5 456.0 501.7 455.8 501.8 455.7 502.0 455.6 502.1 455.4 502.3 455.3 502.4 455.1 502.6 455.0 502.7 454.9 502.9 454.7 503.0 454.6 503.1 454.4 503.3 454.3 503.4 454.1 503.5 454.0 503.7 453.9 503.8 453.7 503.9 453.6 504.0 453.4 504.2 453.3 504.3 453.1 504.4 453.0 504.5 452.8 504.6 452.6 504.8 452.5 504.9 452.3 505.0 452.2 505.1 452.0 505.2 451.9 505.3 451.7 505.4 451.5 505.5 451.4 505.6 451.2 505.7 451.1 505.8 450.9 505.9 450.7 506.0 450.6 506.1 450.4 506.2 450.3 506.3 450.1 506.4 450.0 506.5 449.8 506.6 449.7 506.7 449.5 506.8 449.4 506.9 449.3 507.0 449.1 507.1 449.0 507.1 448.8 507.2 448.7 507.3 448.6 507.4 448.5 507.5 448.3 507.6 448.2 507.6 448.1 507.7 447.9 507.8 447.8 507.9 447.7 508.0 447.6 508.0 447.5 508.1 447.3 508.2 447.2 508.3 447.1 508.4 447.0 508.4 446.9 508.5 446.7 508.6 446.6 508.7 446.5 508.7 446.4 508.8 446.3 508.9 446.2 509.0 446.0 509.0 445.9 509.1 445.8 509.2 445.7 509.3 445.6 509.3 445.5 509.4 445.3 509.5 445.2 509.5 445.1 509.6 445.0 509.7 444.9 509.8 444.7 509.8 444.6 509.9 444.5 510.0 444.4 510.1 444.3 510.1 444.1 510.2 444.0 510.3 443.9 510.3 443.8 510.4 443.6 510.5 443.5 510.6 443.4 510.6 443.2 510.7 443.1 510.8 442.9 510.9 442.8 510.9 442.7 511.0 442.5 511.1 442.4 511.2 442.2 511.2 442.1 511.3 441.9 511.4 441.7 511.5 441.6 511.6 441.4 511.6 441.2 511.7 441.1 511.8 440.9 511.9 440.7 512.0 440.5 512.0 440.3 512.1 440.1 512.2 439.9 512.3 439.7 512.4 439.5 512.5 439.3 512.5 439.1 512.6 438.8 512.7 438.6 512.8 438.4 512.9 438.1 513.0 437.9 513.1 437.6 513.2 437.3 513.3 437.0 513.4 436.7 513.5 436.4 513.6 436.1 513.7 435.8 513.8 435.5 513.9 435.1 514.0 434.7 514.1 434.4 514.2 434.0 514.3 433.6 514.4 433.2 514.5 432.7 514.6 432.3 514.7 431.8 514.8 431.3 515.0 430.8" stroke="#0000ff" stroke-width="5.2"/>
<path d="M515.0 430.8L515.1 430.3 515.2 429.8 515.3 429.2 515.4 428.7 515.6 428.1 515.7 427.5 515.8 426.9 515.9 426.2 516.1 425.6 516.2 424.9 516.3 424.2 516.5 423.6 516.6 422.9 516.7 422.2 516.9 421.5 517.0 420.8 517.2 420.1 517.3 419.4 517.5 418.7 517.6 418.0 517.8 417.3 517.9 416.5 518.1 415.8" stroke="#0000ff" stroke-width="5.4"/>
<path d="M518.1 415.8L518.2 415.1 518.4 414.4 518.5 413.6 518.7 412.9 518.9 412.1 519.0 411.3 519.2 410.4 519.4 409.6 519.6 408.7 519.7 407.8 519.9 406.8 520.1 405.7 520.3 404.6 520.5 403.4 520.7 402.2 520.8 400.8 521.0 399.4 521.2 398.0 521.4 396.6 521.6 395.2 521.8 393.9 522.0 392.6 522.2 391.3 522.5 390.1 522.7 389.0 522.9 387.8 523.1 386.7 523.3 385.6 523.6 384.5 523.8 383.3 524.0 382.1 524.2 380.8 524.5 379.4 524.7 377.9 525.0 376.2 525.2 374.2 525.4 372.0 525.7 369.6" stroke="#0000ff" stroke-width="5.6"/>
<path d="M525.7 369.6L525.9 366.8 526.2 363.9 526.5 360.9 526.7 358.0 527.0 355.4 527.3 353.0 527.5 350.8 527.8 348.8 528.1 346.9 528.4 345.2 528.6 343.4 528.9 341.7 529.2 339.9 529.5 338.1 529.8 336.1 530.1 334.0 530.4 331.8 530.7 329.4 531.0 326.9 531.3 324.4 531.7 321.8 532.0 319.4 532.3 317.0 532.6 314.8 533.0 312.8 533.3 310.9 533.6 309.2 534.0 307.5 534.3 306.0 534.7 304.5 535.0 302.9 535.4 301.4 535.8 299.7 536.1 298.0 536.5 296.3 536.9 294.6 537.2 293.0 537.6 291.7 538.0 290.4 538.4 289.3 538.8 288.2 539.2 287.2 539.6 286.3 540.0 285.4 540.4 284.4 540.8 283.5 541.2 282.6 541.6 281.7 542.1 280.8 542.5 279.8 542.9 278.8 543.4 277.7 543.8 276.6 544.2 275.5 544.7 274.3 545.1 273.0 545.6 271.7 546.1 270.4 546.5 269.1 547.0 267.7 547.5 266.4 548.0 265.1 548.5 263.8 548.9 262.6 549.4 261.5 549.9 260.4 550.4 259.4 550.9 258.5 551.5 257.6 552.0 256.7 552.5 255.9 553.0 255.2 553.6 254.5 554.1 253.8 554.6 253.2 555.2 252.6 555.7 252.0 556.3 251.4 556.8 250.9 557.4 250.4 558.0 249.9 558.6 249.4 559.1 248.9 559.7 248.4 560.3 248.0 560.9 247.6 561.5 247.1 562.1 246.7 562.7 246.3 563.3 245.9 564.0 245.5 564.6 245.1 565.2 244.8 565.9 244.4 566.5 244.0 567.2 243.7 567.8 243.3 568.5 243.0 569.1 242.6 569.8 242.3 570.5 241.9 571.1 241.6 571.8 241.3 572.5 240.9 573.2 240.6" stroke="#0000ff" stroke-width="5.8"/>
<path d="M573.2 240.6L573.9 240.3 574.6 239.9 575.3 239.6 576.1 239.3 576.8 239.0 577.5 238.7 578.3 238.4 579.0 238.1 579.7 237.8 580.5 237.4 581.3 237.1 582.0 236.8 582.8 236.5 583.6 236.2 584.4 235.9 585.1 235.7 585.9 235.4 586.7 235.1 587.5 234.8 588.4 234.5 589.2 234.2 590.0 233.9 590.8 233.6 591.7 233.3 592.5 233.1 593.4 232.8 594.2 232.5 595.1 232.2 595.9 231.9 596.8 231.7 597.7 231.4 598.6 231.1 599.5 230.9 600.4 230.6 601.3 230.3 602.2 230.1 603.1 229.8 604.0 229.5 605.0 229.3 605.9 229.0 606.9 228.7 607.8 228.5 608.8 228.2 609.7 228.0 610.7 227.7 611.7 227.5 612.7 227.2 613.7 227.0 614.6 226.7 615.7 226.5 616.7 226.2 617.7 226.0 618.7 225.7 619.7 225.5 620.8 225.2 621.8 225.0 622.9 224.8 623.9 224.5" stroke="#0000ff" stroke-width="5.6"/>
<path d="M623.9 224.5L625.0 224.3 626.1 224.1 627.2 223.8 628.2 223.6 629.3 223.4 630.4 223.1 631.6 222.9 632.7 222.7 633.8 222.5 634.9 222.2 636.1 222.0 637.2 221.8 638.4 221.6 639.5 221.4 640.7 221.2 641.9 220.9 643.0 220.7 644.2 220.5 645.4 220.3 646.6 220.1 647.8 219.9 649.1 219.7 650.3 219.5 651.5 219.3 652.8 219.1 654.0 218.9 655.3 218.7 656.5 218.5 657.8 218.3 659.1 218.1 660.4 217.9 661.7 217.7 663.0 217.5 664.3 217.3 665.6 217.1 666.9 217.0 668.3 216.8 669.6 216.6 671.0 216.4 672.3 216.2 673.7 216.0 675.1 215.9 676.5 215.7 677.8 215.5 679.2 215.3 680.7 215.2 682.1 215.0 683.5 214.8 684.9 214.7 686.4 214.5 687.8 214.3 689.3 214.2 690.7 214.0 692.2 213.8 693.7 213.7 695.2 213.5 696.7 213.3 698.2 213.2 699.7 213.0 701.2 212.9 702.7 212.7 704.3 212.6 705.8 212.4 707.4 212.3 709.0 212.1 710.5 212.0 712.1 211.8 713.7 211.7 715.3 211.5 716.9 211.4 718.5 211.2 720.2 211.1 721.8 211.0 723.4 210.8 725.1 210.7 726.8 210.5 728.4 210.4 730.1 210.3 731.8 210.1 733.5 210.0 735.2 209.9 736.9 209.7 738.6 209.6 740.4 209.5 742.1 209.3 743.9 209.2 745.6 209.1 747.4 209.0 749.2 208.8 751.0 208.7 752.8 208.6 754.6 208.5 756.4 208.3 758.2 208.2 760.0 208.1 761.9 208.0 763.7 207.9 765.6 207.8 767.5 207.6 769.3 207.5 771.2 207.4 773.1 207.3 775.0 207.2 777.0 207.1 778.9 207.0 780.8 206.9 782.8 206.8 784.7 206.6 786.7 206.5 788.7 206.4 790.7 206.3 792.7 206.2 794.7 206.1 796.7 206.0 798.7 205.9 800.7 205.8 802.8 205.7 804.8 205.6 806.9 205.5 809.0 205.4 811.1 205.3 813.2 205.2 815.3 205.1 817.4 205.0 819.5 204.9 821.7 204.9 823.8 204.8 826.0 204.7 828.1 204.6 830.3 204.5 832.5 204.4 834.7 204.3 836.9 204.2 839.1 204.1 841.3 204.0 843.6 204.0 845.8 203.9 848.1 203.8 850.3 203.7 852.6 203.6 854.9 203.5 857.2 203.5 859.5 203.4 861.8 203.3 864.2 203.2 866.5 203.1 868.9 203.1 871.2 203.0 873.6 202.9 876.0 202.8 878.4 202.7 880.8 202.7 883.2 202.6 885.6 202.5 888.1 202.4 890.5 202.4 893.0 202.3 895.4 202.2 897.9 202.2 900.4 202.1 902.9 202.0 905.4 201.9 908.0 201.9 910.5 201.8 913.0 201.7 915.6 201.7" stroke="#0000ff" stroke-width="5.4"/>
<path d="M509.8 360.3L510.4 359.6 511.0 358.9 511.6 358.2 512.2 357.5 512.8 356.8 513.4 356.1 513.9 355.3 514.5 354.5 515.3 353.4 516.0 352.4 516.7 351.3 517.3 350.2 518.0 349.1 518.6 348.0 519.2 346.9 519.8 345.8 520.3 344.8 520.8 343.7 521.4 342.6 521.8 341.5 522.3 340.3 522.8 339.2 523.2 338.1 523.6 337.2 523.9 336.2 524.2 335.2 524.6 334.3 524.9 333.3 525.2 332.3 525.5 331.4 525.9 329.9 526.4 328.0 526.9 326.0 527.3 324.1 527.8 322.1 528.2 320.1 528.6 318.2 529.0 316.2 529.3 314.7 529.6 313.3 529.9 311.8 530.2 310.4 530.4 308.9 530.7 307.5 531.1 306.0 531.3 304.7 531.6 303.6 531.9 302.5 532.1 301.3 532.4 300.2 532.7 299.1 533.0 298.0 533.3 296.9 533.7 295.8 534.0 294.7 534.3 293.6 534.7 292.5 535.1 291.5 535.5 290.4 535.9 289.3 536.3 288.2 536.7 287.1 537.1 286.0 537.6 284.9 538.1 283.9 538.5 282.8 539.0 281.7 539.5 280.6 540.0 279.6 540.4 278.6 540.9 277.6 541.4 276.6 541.9 275.6 542.4 274.6 542.9 273.6 543.4 272.6 543.9 271.7 544.3 270.7 544.8 269.8 545.3 268.9 545.8 267.9 546.3 267.0 546.8 266.1 547.3 265.1 548.0 264.0 548.6 262.8 549.3 261.7 549.9 260.5 550.6 259.4 551.2 258.3 551.9 257.1 552.4 256.2 552.9 255.5 553.4 254.7 553.8 253.9 554.3 253.2 554.8 252.4 555.3 251.7 555.7 250.9" stroke="#0000ff" stroke-width="5.8"/>
<path d="M104.0 605.6L106.6 605.5 109.1 605.4 111.6 605.3 114.2 605.2 116.7 605.2 119.2 605.1 121.7 605.0 124.2 604.9 126.6 604.8 129.1 604.7 131.5 604.6 134.0 604.5 136.4 604.4 138.8 604.3 141.2 604.2 143.6 604.1 146.0 604.0 148.4 603.9 150.7 603.8 153.1 603.7 155.4 603.6 157.8 603.5 160.1 603.4 162.4 603.3 164.7 603.2 167.0 603.1 169.3 603.0 171.5 602.9 173.8 602.8 176.0 602.7 178.3 602.6 180.5 602.5 182.7 602.4 184.9 602.3 187.1 602.1 189.3 602.0 191.5 601.9 193.6 601.8 195.8 601.7 197.9 601.6 200.1 601.5 202.2 601.4 204.3 601.3 206.4 601.2 208.5 601.1 210.6 600.9 212.7 600.8 214.8 600.7 216.8 600.6 218.9 600.5 220.9 600.4 222.9 600.3 224.9 600.1 226.9 600.0 228.9 599.9 230.9 599.8 232.9 599.7 234.9 599.6 236.8 599.4 238.8 599.3 240.7 599.2 242.6 599.1 244.6 599.0 246.5 598.8 248.4 598.7 250.3 598.6 252.1 598.5 254.0 598.4 255.9 598.2 257.7 598.1 259.6 598.0 261.4 597.9 263.2 597.7 265.0 597.6 266.8 597.5 268.6 597.3 270.4 597.2 272.2 597.1 274.0 597.0 275.7 596.8 277.5 596.7 279.2 596.6 281.0 596.4 282.7 596.3 284.4 596.2 286.1 596.0 287.8 595.9 289.5 595.7 291.2 595.6 292.8 595.5 294.5 595.3 296.2 595.2 297.8 595.0 299.4 594.9 301.1 594.8 302.7 594.6 304.3 594.5 305.9 594.3 307.5 594.2 309.1 594.0 310.6 593.9 312.2 593.7 313.8 593.6 315.3 593.4 316.9 593.3 318.4 593.1 319.9 593.0 321.4 592.8 322.9 592.7 324.4 592.5 325.9 592.3 327.4 592.2 328.9 592.0 330.3 591.9 331.8 591.7 333.2 591.5 334.7 591.4 336.1 591.2 337.5 591.0 338.9 590.9 340.4 590.7 341.8 590.5 343.1 590.4 344.5 590.2 345.9 590.0 347.3 589.8 348.6 589.7 350.0 589.5 351.3 589.3 352.7 589.1 354.0 588.9 355.3 588.7 356.6 588.6 357.9 588.4 359.2 588.2 360.5 588.0 361.8 587.8 363.1 587.6 364.3 587.4 365.6 587.2 366.8 587.0 368.1 586.8 369.3 586.6 370.5 586.4 371.8 586.2 373.0 586.0 374.2 585.8 375.4 585.6 376.6 585.4 377.7 585.2 378.9 585.0 380.1 584.8 381.2 584.5 382.4 584.3 383.5 584.1 384.7 583.9 385.8 583.7 386.9 583.4 388.0 583.2 389.2 583.0 390.3 582.7 391.4 582.5 392.4 582.3 393.5 582.0 394.6 581.8 395.7 581.5 396.7 581.3 397.8 581.1 398.8 580.8 399.9 580.6 400.9 580.3 401.9 580.0 402.9 579.8 403.9 579.5 405.0 579.3 405.9 579.0 406.9 578.7 407.9 578.5 408.9 578.2 409.9 577.9 410.8 577.6 411.8 577.4 412.7 577.1 413.7 576.8 414.6 576.5 415.6 576.2 416.5 575.9 417.4 575.6 418.3 575.3 419.2 575.0 420.1 574.7 421.0 574.4 421.9 574.1 422.8 573.8 423.7 573.5 424.5 573.2 425.4 572.8 426.2 572.5 427.1 572.2 427.9 571.9 428.8 571.5 429.6 571.2 430.4 570.9 431.2 570.5 432.1 570.2 432.9 569.8 433.7 569.5 434.5 569.1 435.2 568.7 436.0 568.4 436.8 568.0 437.6 567.7 438.3 567.3 439.1 566.9 439.9 566.5 440.6 566.1 441.3 565.8 442.1 565.4 442.8 565.0 443.5 564.6 444.3 564.2 445.0 563.8 445.7 563.4 446.4 563.0 447.1 562.5 447.8 562.1 448.5 561.7 449.1 561.3 449.8 560.9 450.5 560.4 451.1 560.0 451.8 559.5 452.4 559.1 453.1 558.7 453.7 558.2 454.4 557.7 455.0 557.3 455.6 556.8 456.3 556.3 456.9 555.9 457.5 555.4 458.1 554.9 458.7 554.4 459.3 553.9 459.9 553.4 460.5 553.0 461.0 552.4 461.6 551.9 462.2 551.4 462.8 550.9 463.3 550.4 463.9 549.9 464.4 549.3 465.0 548.8 465.5 548.3 466.0 547.7 466.6 547.2 467.1 546.6 467.6 546.1 468.1 545.5 468.7 544.9 469.2 544.4 469.7 543.8 470.2 543.2 470.7 542.6 471.1 542.0 471.6 541.4 472.1 540.8 472.6 540.2 473.1 539.6 473.5 538.9 474.0 538.3 474.5 537.7 474.9 537.0 475.4 536.4 475.8 535.7 476.2 535.1 476.7 534.4 477.1 533.7 477.5 533.0 478.0 532.4 478.4 531.7 478.8 531.0 479.2 530.3 479.6 529.5 480.0 528.8 480.4 528.1 480.8 527.3 481.2 526.6 481.6 525.8 482.0 525.1 482.4 524.3 482.7 523.5 483.1 522.8 483.5 522.0 483.8 521.2 484.2 520.4 484.6 519.6 484.9 518.8 485.3 518.0 485.6 517.1 486.0 516.3 486.3 515.5 486.6 514.6 487.0 513.8 487.3 513.0 487.6 512.1 487.9 511.3 488.3 510.4 488.6 509.6 488.9 508.7 489.2 507.9 489.5 507.0 489.8 506.2 490.1 505.3 490.4 504.5 490.7 503.6 491.0 502.8 491.2 501.9 491.5 501.1 491.8 500.2 492.1 499.4 492.3 498.5 492.6 497.7 492.9 496.8 493.1 496.0 493.4 495.1 493.7 494.3 493.9 493.4 494.2 492.5 494.4 491.6 494.6 490.8 494.9 489.9 495.1 489.0 495.4 488.1 495.6 487.1 495.8 486.2 496.0 485.2 496.3 484.3 496.5 483.3 496.7 482.3 496.9 481.3 497.1 480.2 497.4 479.1 497.6 478.1 497.8 476.9 498.0 475.8 498.2 474.6 498.4 473.4 498.6 472.2 498.8 470.9 498.9 469.7 499.1 468.4 499.3 467.1 499.5 465.8 499.7 464.5 499.9 463.2 500.0 461.9 500.2 460.6 500.4 459.4 500.6 458.1 500.7 456.9 500.9 455.7 501.1 454.5 501.2 453.3 501.4 452.1 501.5 450.9 501.7 449.7 501.8 448.6 502.0 447.4 502.1 446.2 502.3 445.0 502.4 443.7 502.6 442.5 502.7 441.2 502.9 439.9 503.0 438.5 503.1 437.1 503.3 435.7 503.4 434.2 503.5 432.6 503.7 431.0" stroke="#ff00ff" stroke-width="5.2"/>
<path d="M503.7 431.0L503.8 429.3 503.9 427.5 504.0 425.6 504.2 423.7 504.3 421.7 504.4 419.7 504.5 417.7 504.6 415.6" stroke="#ff00ff" stroke-width="5.4"/>
<path d="M504.6 415.6L504.8 413.6 504.9 411.6 505.0 409.6 505.1 407.7 505.2 405.9 505.3 404.1 505.4 402.5 505.5 400.9 505.6 399.3 505.7 397.9 505.8 396.5 505.9 395.2 506.0 393.9 506.1 392.7 506.2 391.5 506.3 390.3 506.4 389.2 506.5 388.1 506.6 387.1 506.7 386.1 506.8 385.1 506.9 384.1 507.0 383.1 507.1 382.2 507.1 381.3 507.2 380.3 507.3 379.4 507.4 378.5 507.5 377.7 507.6 376.8 507.6 375.9 507.7 375.1 507.8 374.2 507.9 373.3 508.0 372.5 508.0 371.7 508.1 370.8 508.2 370.0" stroke="#ff00ff" stroke-width="5.6"/>
<path d="M508.2 370.0L508.3 369.1 508.4 368.3 508.4 367.5 508.5 366.7 508.6 365.8 508.7 365.0 508.7 364.2 508.8 363.4 508.9 362.5 509.0 361.7 509.0 360.9 509.1 360.1 509.2 359.2 509.3 358.4 509.3 357.6 509.4 356.8 509.5 355.9 509.5 355.1 509.6 354.3 509.7 353.4 509.8 352.6 509.8 351.8 509.9 350.9 510.0 350.1 510.1 349.2 510.1 348.4 510.2 347.5 510.3 346.7 510.3 345.8 510.4 345.0 510.5 344.1 510.6 343.2 510.6 342.4 510.7 341.5 510.8 340.6 510.9 339.7 510.9 338.8 511.0 337.9 511.1 337.0 511.2 336.1 511.2 335.2 511.3 334.3 511.4 333.4 511.5 332.5 511.6 331.5 511.6 330.6 511.7 329.6 511.8 328.7 511.9 327.7 512.0 326.7 512.0 325.7 512.1 324.7 512.2 323.7 512.3 322.7 512.4 321.7 512.5 320.6 512.5 319.6 512.6 318.5 512.7 317.4 512.8 316.4 512.9 315.3 513.0 314.1 513.1 313.0 513.2 311.9 513.3 310.7 513.4 309.5 513.5 308.3 513.6 307.1 513.7 305.9 513.8 304.6 513.9 303.4 514.0 302.1 514.1 300.8 514.2 299.5 514.3 298.2 514.4 296.9 514.5 295.5 514.6 294.2 514.7 292.8 514.8 291.4 515.0 290.0 515.1 288.6 515.2 287.2 515.3 285.8 515.4 284.4 515.6 283.0 515.7 281.6 515.8 280.2 515.9 278.8 516.1 277.4 516.2 276.0 516.3 274.6 516.5 273.2 516.6 271.8 516.7 270.5 516.9 269.1 517.0 267.8 517.2 266.5 517.3 265.2 517.5 263.9 517.6 262.6 517.8 261.4 517.9 260.1 518.1 258.9 518.2 257.7 518.4 256.5 518.5 255.4 518.7 254.2 518.9 253.1 519.0 252.0 519.2 250.9 519.4 249.9 519.6 248.8 519.7 247.8 519.9 246.7 520.1 245.7 520.3 244.8 520.5 243.8 520.7 242.8 520.8 241.9 521.0 240.9 521.2 240.0 521.4 239.1 521.6 238.2 521.8 237.3 522.0 236.4 522.2 235.5 522.5 234.7 522.7 233.8 522.9 233.0 523.1 232.1 523.3 231.3 523.6 230.4 523.8 229.6 524.0 228.8 524.2 227.9 524.5 227.1 524.7 226.3 525.0 225.5" stroke="#ff00ff" stroke-width="5.8"/>
<path d="M525.0 225.5L525.2 224.7 525.4 223.9 525.7 223.1 525.9 222.2 526.2 221.4 526.5 220.6 526.7 219.8 527.0 219.0 527.3 218.2 527.5 217.4 527.8 216.6 528.1 215.8 528.4 215.0 528.6 214.1 528.9 213.3 529.2 212.5 529.5 211.7 529.8 210.9 530.1 210.1 530.4 209.2 530.7 208.4 531.0 207.6 531.3 206.8 531.7 206.0 532.0 205.2 532.3 204.4 532.6 203.6 533.0 202.8 533.3 202.0 533.6 201.2 534.0 200.4 534.3 199.6 534.7 198.8 535.0 198.0 535.4 197.3 535.8 196.5 536.1 195.7 536.5 195.0 536.9 194.2 537.2 193.5 537.6 192.8 538.0 192.1 538.4 191.3 538.8 190.6 539.2 189.9 539.6 189.3 540.0 188.6 540.4 187.9 540.8 187.2 541.2 186.6 541.6 185.9" stroke="#ff00ff" stroke-width="5.6"/>
<path d="M541.6 185.9L542.1 185.3 542.5 184.6 542.9 184.0 543.4 183.4 543.8 182.8 544.2 182.2 544.7 181.6 545.1 181.0 545.6 180.4 546.1 179.8 546.5 179.2 547.0 178.6 547.5 178.1 548.0 177.5 548.5 176.9 548.9 176.4 549.4 175.8 549.9 175.3 550.4 174.8 550.9 174.2 551.5 173.7 552.0 173.2 552.5 172.7 553.0 172.2 553.6 171.6 554.1 171.1 554.6 170.6 555.2 170.1 555.7 169.6 556.3 169.2 556.8 168.7 557.4 168.2 558.0 167.7 558.6 167.2 559.1 166.8 559.7 166.3 560.3 165.8 560.9 165.4 561.5 164.9 562.1 164.5 562.7 164.0 563.3 163.6 564.0 163.1 564.6 162.7 565.2 162.2 565.9 161.8 566.5 161.4 567.2 160.9 567.8 160.5 568.5 160.1 569.1 159.7 569.8 159.2 570.5 158.8 571.1 158.4 571.8 158.0 572.5 157.6 573.2 157.2 573.9 156.8 574.6 156.4 575.3 156.0 576.1 155.6 576.8 155.3 577.5 154.9 578.3 154.5 579.0 154.1 579.7 153.7 580.5 153.4 581.3 153.0 582.0 152.6 582.8 152.3 583.6 151.9 584.4 151.6 585.1 151.2 585.9 150.9 586.7 150.5 587.5 150.2 588.4 149.9 589.2 149.5 590.0 149.2 590.8 148.9 591.7 148.5 592.5 148.2 593.4 147.9 594.2 147.6 595.1 147.2 595.9 146.9 596.8 146.6 597.7 146.3 598.6 146.0 599.5 145.7 600.4 145.4 601.3 145.1 602.2 144.8 603.1 144.5 604.0 144.2 605.0 144.0 605.9 143.7 606.9 143.4 607.8 143.1 608.8 142.8 609.7 142.6 610.7 142.3 611.7 142.0 612.7 141.8 613.7 141.5 614.6 141.2 615.7 141.0 616.7 140.7 617.7 140.5 618.7 140.2 619.7 140.0 620.8 139.7 621.8 139.5 622.9 139.2 623.9 139.0 625.0 138.7 626.1 138.5 627.2 138.3 628.2 138.0 629.3 137.8 630.4 137.6 631.6 137.3 632.7 137.1 633.8 136.9 634.9 136.7 636.1 136.5 637.2 136.2 638.4 136.0 639.5 135.8 640.7 135.6 641.9 135.4 643.0 135.2 644.2 135.0 645.4 134.8 646.6 134.6 647.8 134.3 649.1 134.1 650.3 133.9 651.5 133.8 652.8 133.6 654.0 133.4 655.3 133.2 656.5 133.0 657.8 132.8 659.1 132.6 660.4 132.4 661.7 132.2 663.0 132.0 664.3 131.9 665.6 131.7 666.9 131.5 668.3 131.3 669.6 131.1 671.0 131.0 672.3 130.8 673.7 130.6 675.1 130.4 676.5 130.3 677.8 130.1 679.2 129.9 680.7 129.8 682.1 129.6 683.5 129.4 684.9 129.3 686.4 129.1 687.8 128.9 689.3 128.8 690.7 128.6 692.2 128.4 693.7 128.3 695.2 128.1 696.7 128.0 698.2 127.8 699.7 127.7 701.2 127.5 702.7 127.4 704.3 127.2 705.8 127.1 707.4 126.9 709.0 126.8 710.5 126.6 712.1 126.5 713.7 126.3 715.3 126.2 716.9 126.0 718.5 125.9 720.2 125.7 721.8 125.6 723.4 125.5 725.1 125.3 726.8 125.2 728.4 125.0 730.1 124.9 731.8 124.8 733.5 124.6 735.2 124.5 736.9 124.4 738.6 124.2 740.4 124.1 742.1 124.0 743.9 123.8 745.6 123.7 747.4 123.6 749.2 123.4 751.0 123.3 752.8 123.2 754.6 123.0 756.4 122.9 758.2 122.8 760.0 122.7 761.9 122.5 763.7 122.4 765.6 122.3 767.5 122.2 769.3 122.0 771.2 121.9 773.1 121.8 775.0 121.7 777.0 121.5 778.9 121.4 780.8 121.3 782.8 121.2 784.7 121.1 786.7 120.9 788.7 120.8 790.7 120.7 792.7 120.6 794.7 120.5 796.7 120.4 798.7 120.2 800.7 120.1 802.8 120.0 804.8 119.9 806.9 119.8 809.0 119.7 811.1 119.6 813.2 119.5 815.3 119.3 817.4 119.2 819.5 119.1 821.7 119.0 823.8 118.9 826.0 118.8 828.1 118.7 830.3 118.6 832.5 118.5 834.7 118.4 836.9 118.2 839.1 118.1 841.3 118.0 843.6 117.9 845.8 117.8 848.1 117.7 850.3 117.6 852.6 117.5 854.9 117.4 857.2 117.3 859.5 117.2 861.8 117.1 864.2 117.0 866.5 116.9 868.9 116.8 871.2 116.7 873.6 116.6 876.0 116.5 878.4 116.4 880.8 116.3 883.2 116.2 885.6 116.1 888.1 116.0 890.5 115.9 893.0 115.8 895.4 115.7 897.9 115.6 900.4 115.5 902.9 115.4 905.4 115.3 908.0 115.2 910.5 115.1 913.0 115.0 915.6 114.9" stroke="#ff00ff" stroke-width="5.4"/>
<path d="M104.0 605.7L106.6 605.6 109.1 605.5 111.6 605.4 114.2 605.3 116.7 605.2 119.2 605.1 121.7 605.0 124.2 604.9 126.6 604.8 129.1 604.7 131.5 604.6 134.0 604.5 136.4 604.4 138.8 604.3 141.2 604.2 143.6 604.1 146.0 604.0 148.4 603.9 150.7 603.8 153.1 603.7 155.4 603.6 157.8 603.5 160.1 603.4 162.4 603.3 164.7 603.2 167.0 603.1 169.3 603.0 171.5 602.9 173.8 602.8 176.0 602.7 178.3 602.6 180.5 602.5 182.7 602.4 184.9 602.2 187.1 602.1 189.3 602.0 191.5 601.9 193.6 601.8 195.8 601.7 197.9 601.6 200.1 601.5 202.2 601.4 204.3 601.3 206.4 601.1 208.5 601.0 210.6 600.9 212.7 600.8 214.8 600.7 216.8 600.6 218.9 600.5 220.9 600.4 222.9 600.2 224.9 600.1 226.9 600.0 228.9 599.9 230.9 599.8 232.9 599.7 234.9 599.5 236.8 599.4 238.8 599.3 240.7 599.2 242.6 599.1 244.6 598.9 246.5 598.8 248.4 598.7 250.3 598.6 252.1 598.4 254.0 598.3 255.9 598.2 257.7 598.1 259.6 597.9 261.4 597.8 263.2 597.7 265.0 597.6 266.8 597.4 268.6 597.3 270.4 597.2 272.2 597.0 274.0 596.9 275.7 596.8 277.5 596.6 279.2 596.5 281.0 596.4 282.7 596.2 284.4 596.1 286.1 596.0 287.8 595.8 289.5 595.7 291.2 595.6 292.8 595.4 294.5 595.3 296.2 595.1 297.8 595.0 299.4 594.9 301.1 594.7 302.7 594.6 304.3 594.4 305.9 594.3 307.5 594.1 309.1 594.0 310.6 593.8 312.2 593.7 313.8 593.5 315.3 593.4 316.9 593.2 318.4 593.1 319.9 592.9 321.4 592.8 322.9 592.6 324.4 592.5 325.9 592.3 327.4 592.2 328.9 592.0 330.3 591.8 331.8 591.7 333.2 591.5 334.7 591.3 336.1 591.2 337.5 591.0 338.9 590.8 340.4 590.7 341.8 590.5 343.1 590.3 344.5 590.2 345.9 590.0 347.3 589.8 348.6 589.6 350.0 589.5 351.3 589.3 352.7 589.1 354.0 588.9 355.3 588.7 356.6 588.6 357.9 588.4 359.2 588.2 360.5 588.0 361.8 587.8 363.1 587.6 364.3 587.4 365.6 587.2 366.8 587.0 368.1 586.8 369.3 586.7 370.5 586.5 371.8 586.3 373.0 586.0 374.2 585.8 375.4 585.6 376.6 585.4 377.7 585.2 378.9 585.0 380.1 584.8 381.2 584.6 382.4 584.4 383.5 584.1 384.7 583.9 385.8 583.7 386.9 583.5 388.0 583.3 389.2 583.0 390.3 582.8 391.4 582.6 392.4 582.3 393.5 582.1 394.6 581.9 395.7 581.6 396.7 581.4 397.8 581.1 398.8 580.9 399.9 580.6 400.9 580.4 401.9 580.1 402.9 579.9 403.9 579.6 405.0 579.4 405.9 579.1 406.9 578.8 407.9 578.6 408.9 578.3 409.9 578.0 410.8 577.8 411.8 577.5 412.7 577.2 413.7 576.9 414.6 576.6 415.6 576.4 416.5 576.1 417.4 575.8 418.3 575.5 419.2 575.2 420.1 574.9 421.0 574.6 421.9 574.3 422.8 574.0 423.7 573.7 424.5 573.4 425.4 573.0 426.2 572.7 427.1 572.4 427.9 572.1 428.8 571.7 429.6 571.4 430.4 571.1 431.2 570.7 432.1 570.4 432.9 570.1 433.7 569.7 434.5 569.4 435.2 569.0 436.0 568.7 436.8 568.3 437.6 568.0 438.3 567.6 439.1 567.2 439.9 566.9 440.6 566.5 441.3 566.1 442.1 565.7 442.8 565.3 443.5 565.0 444.3 564.6 445.0 564.2 445.7 563.8 446.4 563.4 447.1 563.0 447.8 562.6 448.5 562.2 449.1 561.8 449.8 561.4 450.5 560.9 451.1 560.5 451.8 560.1 452.4 559.7 453.1 559.2 453.7 558.8 454.4 558.4 455.0 557.9 455.6 557.5 456.3 557.0 456.9 556.6 457.5 556.1 458.1 555.7 458.7 555.2 459.3 554.8 459.9 554.3 460.5 553.8 461.0 553.4 461.6 552.9 462.2 552.4 462.8 551.9 463.3 551.4 463.9 551.0 464.4 550.5 465.0 550.0 465.5 549.5 466.0 549.0 466.6 548.4 467.1 547.9 467.6 547.4 468.1 546.9 468.7 546.4 469.2 545.8 469.7 545.3 470.2 544.8 470.7 544.2 471.1 543.7 471.6 543.1 472.1 542.5 472.6 542.0 473.1 541.4 473.5 540.8 474.0 540.2 474.5 539.6 474.9 539.0 475.4 538.4 475.8 537.8 476.2 537.2 476.7 536.6 477.1 536.0 477.5 535.3 478.0 534.7 478.4 534.0 478.8 533.4 479.2 532.7 479.6 532.0 480.0 531.3 480.4 530.7 480.8 530.0 481.2 529.3 481.6 528.5 482.0 527.8 482.4 527.1 482.7 526.4 483.1 525.6 483.5 524.9 483.8 524.1 484.2 523.3 484.6 522.6 484.9 521.8 485.3 521.0 485.6 520.2 486.0 519.4 486.3 518.6 486.6 517.8 487.0 517.0 487.3 516.2 487.6 515.4 487.9 514.6 488.3 513.8 488.6 513.0 488.9 512.2 489.2 511.4 489.5 510.5 489.8 509.7 490.1 508.9 490.4 508.1 490.7 507.3 491.0 506.5 491.2 505.6 491.5 504.8 491.8 504.0 492.1 503.2 492.3 502.4 492.6 501.6 492.9 500.8 493.1 500.0 493.4 499.2 493.7 498.4 493.9 497.5 494.2 496.7 494.4 495.9 494.6 495.1 494.9 494.3 495.1 493.5 495.4 492.7 495.6 491.8 495.8 491.0 496.0 490.2 496.3 489.3 496.5 488.5 496.7 487.6 496.9 486.8 497.1 485.9 497.4 485.1 497.6 484.2 497.8 483.3 498.0 482.4 498.2 481.5 498.4 480.6 498.6 479.7 498.8 478.7 498.9 477.8 499.1 476.8 499.3 475.8 499.5 474.9 499.7 473.9 499.9 472.8 500.0 471.8 500.2 470.7 500.4 469.7 500.6 468.6 500.7 467.5 500.9 466.4 501.1 465.2 501.2 464.1 501.4 462.9 501.5 461.7 501.7 460.5 501.8 459.2 502.0 458.0 502.1 456.7 502.3 455.4 502.4 454.1 502.6 452.8 502.7 451.5 502.9 450.1 503.0 448.8 503.1 447.4 503.3 446.0 503.4 444.6 503.5 443.2 503.7 441.8 503.8 440.4 503.9 439.0 504.0 437.6 504.2 436.2 504.3 434.8 504.4 433.4 504.5 432.0 504.6 430.6" stroke="#ff00ff" stroke-width="5.2"/>
<path d="M504.6 430.6L504.8 429.2 504.9 427.8 505.0 426.4 505.1 425.1 505.2 423.7 505.3 422.4 505.4 421.1 505.5 419.8 505.6 418.5 505.7 417.2 505.8 416.0" stroke="#ff00ff" stroke-width="5.4"/>
<path d="M505.8 416.0L505.9 414.7 506.0 413.5 506.1 412.3 506.2 411.1 506.3 409.9 506.4 408.7 506.5 407.6 506.6 406.5 506.7 405.3 506.8 404.2 506.9 403.2 507.0 402.1 507.1 401.0 507.1 400.0 507.2 398.9 507.3 397.9 507.4 396.9 507.5 395.9 507.6 394.9 507.6 393.9 507.7 392.9 507.8 391.9 507.9 391.0 508.0 390.0 508.0 389.1 508.1 388.1 508.2 387.2 508.3 386.3 508.4 385.4 508.4 384.5 508.5 383.6 508.6 382.7 508.7 381.8 508.7 380.9 508.8 380.0 508.9 379.1 509.0 378.2 509.0 377.4 509.1 376.5 509.2 375.6 509.3 374.8 509.3 373.9 509.4 373.1 509.5 372.2 509.5 371.4 509.6 370.5" stroke="#ff00ff" stroke-width="5.6"/>
<path d="M509.6 370.5L509.7 369.7 509.8 368.8 509.8 368.0 509.9 367.2 510.0 366.3 510.1 365.5 510.1 364.7 510.2 363.8 510.3 363.0 510.3 362.2 510.4 361.4 510.5 360.5 510.6 359.7 510.6 358.9 510.7 358.1 510.8 357.2 510.9 356.4 510.9 355.6 511.0 354.8 511.1 353.9 511.2 353.1 511.2 352.3 511.3 351.5 511.4 350.6 511.5 349.8 511.6 348.9 511.6 348.1 511.7 347.3 511.8 346.4 511.9 345.5 512.0 344.7 512.0 343.8 512.1 342.9 512.2 342.1 512.3 341.2 512.4 340.3 512.5 339.3 512.5 338.4 512.6 337.5 512.7 336.5 512.8 335.5 512.9 334.5 513.0 333.5 513.1 332.5 513.2 331.4 513.3 330.3 513.4 329.1 513.5 327.9 513.6 326.7 513.7 325.4 513.8 324.1 513.9 322.7 514.0 321.3 514.1 319.7 514.2 318.1 514.3 316.5 514.4 314.7 514.5 312.9 514.6 311.0 514.7 309.0 514.8 307.0 515.0 305.0 515.1 302.9 515.2 300.9 515.3 298.9 515.4 296.9 515.6 295.0 515.7 293.1 515.8 291.3 515.9 289.6 516.1 288.0 516.2 286.4 516.3 284.9 516.5 283.5 516.6 282.1 516.7 280.7 516.9 279.4 517.0 278.1 517.2 276.9 517.3 275.6 517.5 274.4 517.6 273.2 517.8 272.0 517.9 270.9 518.1 269.7 518.2 268.5 518.4 267.3 518.5 266.1 518.7 264.9 518.9 263.7 519.0 262.5 519.2 261.2 519.4 260.0 519.6 258.7 519.7 257.4 519.9 256.1 520.1 254.8 520.3 253.5 520.5 252.2 520.7 250.9 520.8 249.7 521.0 248.4 521.2 247.2 521.4 246.0 521.6 244.8 521.8 243.7 522.0 242.5 522.2 241.5 522.5 240.4 522.7 239.3 522.9 238.3 523.1 237.3 523.3 236.3 523.6 235.4 523.8 234.4 524.0 233.5 524.2 232.5 524.5 231.6 524.7 230.7 525.0 229.8 525.2 229.0 525.4 228.1 525.7 227.2 525.9 226.3 526.2 225.5" stroke="#ff00ff" stroke-width="5.8"/>
<path d="M526.2 225.5L526.5 224.6 526.7 223.8 527.0 222.9 527.3 222.1 527.5 221.2 527.8 220.4 528.1 219.5 528.4 218.7 528.6 217.8 528.9 217.0 529.2 216.1 529.5 215.3 529.8 214.4 530.1 213.6 530.4 212.7 530.7 211.9 531.0 211.0 531.3 210.2 531.7 209.3 532.0 208.5 532.3 207.6 532.6 206.8 533.0 206.0 533.3 205.1 533.6 204.3 534.0 203.5 534.3 202.6 534.7 201.8 535.0 201.0 535.4 200.2 535.8 199.4 536.1 198.6 536.5 197.8 536.9 197.1 537.2 196.3 537.6 195.5 538.0 194.8 538.4 194.0 538.8 193.3 539.2 192.5 539.6 191.8 540.0 191.1 540.4 190.3 540.8 189.6 541.2 188.9 541.6 188.2 542.1 187.6 542.5 186.9 542.9 186.2" stroke="#ff00ff" stroke-width="5.6"/>
<path d="M542.9 186.2L543.4 185.5 543.8 184.9 544.2 184.2 544.7 183.6 545.1 182.9 545.6 182.3 546.1 181.7 546.5 181.0 547.0 180.4 547.5 179.8 548.0 179.2 548.5 178.6 548.9 178.0 549.4 177.4 549.9 176.8 550.4 176.2 550.9 175.7 551.5 175.1 552.0 174.5 552.5 174.0 553.0 173.4 553.6 172.9 554.1 172.3 554.6 171.8 555.2 171.3 555.7 170.7 556.3 170.2 556.8 169.7 557.4 169.2 558.0 168.7 558.6 168.2 559.1 167.6 559.7 167.2 560.3 166.7 560.9 166.2 561.5 165.7 562.1 165.2 562.7 164.7 563.3 164.3 564.0 163.8 564.6 163.3 565.2 162.9 565.9 162.4 566.5 161.9 567.2 161.5 567.8 161.1 568.5 160.6 569.1 160.2 569.8 159.7 570.5 159.3 571.1 158.9 571.8 158.5 572.5 158.1 573.2 157.6 573.9 157.2 574.6 156.8 575.3 156.4 576.1 156.0 576.8 155.6 577.5 155.2 578.3 154.8 579.0 154.5 579.7 154.1 580.5 153.7 581.3 153.3 582.0 152.9 582.8 152.6 583.6 152.2 584.4 151.9 585.1 151.5 585.9 151.1 586.7 150.8 587.5 150.4 588.4 150.1 589.2 149.7 590.0 149.4 590.8 149.1 591.7 148.7 592.5 148.4 593.4 148.1 594.2 147.8 595.1 147.4 595.9 147.1 596.8 146.8 597.7 146.5 598.6 146.2 599.5 145.9 600.4 145.6 601.3 145.3 602.2 145.0 603.1 144.7 604.0 144.4 605.0 144.1 605.9 143.8 606.9 143.5 607.8 143.2 608.8 143.0 609.7 142.7 610.7 142.4 611.7 142.1 612.7 141.9 613.7 141.6 614.6 141.3 615.7 141.1 616.7 140.8 617.7 140.6 618.7 140.3 619.7 140.0 620.8 139.8 621.8 139.5 622.9 139.3 623.9 139.1 625.0 138.8 626.1 138.6 627.2 138.3 628.2 138.1 629.3 137.9 630.4 137.6 631.6 137.4 632.7 137.2 633.8 136.9 634.9 136.7 636.1 136.5 637.2 136.3 638.4 136.1 639.5 135.8 640.7 135.6 641.9 135.4 643.0 135.2 644.2 135.0 645.4 134.8 646.6 134.6 647.8 134.4 649.1 134.2 650.3 134.0 651.5 133.8 652.8 133.6 654.0 133.4 655.3 133.2 656.5 133.0 657.8 132.8 659.1 132.6 660.4 132.4 661.7 132.2 663.0 132.0 664.3 131.9 665.6 131.7 666.9 131.5 668.3 131.3 669.6 131.1 671.0 130.9 672.3 130.8 673.7 130.6 675.1 130.4 676.5 130.2 677.8 130.1 679.2 129.9 680.7 129.7 682.1 129.6 683.5 129.4 684.9 129.2 686.4 129.1 687.8 128.9 689.3 128.7 690.7 128.6 692.2 128.4 693.7 128.3 695.2 128.1 696.7 127.9 698.2 127.8 699.7 127.6 701.2 127.5 702.7 127.3 704.3 127.2 705.8 127.0 707.4 126.9 709.0 126.7 710.5 126.6 712.1 126.4 713.7 126.3 715.3 126.1 716.9 126.0 718.5 125.8 720.2 125.7 721.8 125.6 723.4 125.4 725.1 125.3 726.8 125.1 728.4 125.0 730.1 124.9 731.8 124.7 733.5 124.6 735.2 124.4 736.9 124.3 738.6 124.2 740.4 124.0 742.1 123.9 743.9 123.8 745.6 123.6 747.4 123.5 749.2 123.4 751.0 123.3 752.8 123.1 754.6 123.0 756.4 122.9 758.2 122.7 760.0 122.6 761.9 122.5 763.7 122.4 765.6 122.2 767.5 122.1 769.3 122.0 771.2 121.9 773.1 121.8 775.0 121.6 777.0 121.5 778.9 121.4 780.8 121.3 782.8 121.2 784.7 121.0 786.7 120.9 788.7 120.8 790.7 120.7 792.7 120.6 794.7 120.5 796.7 120.3 798.7 120.2 800.7 120.1 802.8 120.0 804.8 119.9 806.9 119.8 809.0 119.7 811.1 119.5 813.2 119.4 815.3 119.3 817.4 119.2 819.5 119.1 821.7 119.0 823.8 118.9 826.0 118.8 828.1 118.7 830.3 118.6 832.5 118.5 834.7 118.3 836.9 118.2 839.1 118.1 841.3 118.0 843.6 117.9 845.8 117.8 848.1 117.7 850.3 117.6 852.6 117.5 854.9 117.4 857.2 117.3 859.5 117.2 861.8 117.1 864.2 117.0 866.5 116.9 868.9 116.8 871.2 116.7 873.6 116.6 876.0 116.5 878.4 116.4 880.8 116.3 883.2 116.2 885.6 116.1 888.1 116.0 890.5 115.9 893.0 115.8 895.4 115.7 897.9 115.6 900.4 115.5 902.9 115.4 905.4 115.4 908.0 115.3 910.5 115.2 913.0 115.1 915.6 115.0" stroke="#ff00ff" stroke-width="5.4"/>
</g>
</svg>
</body></html>
